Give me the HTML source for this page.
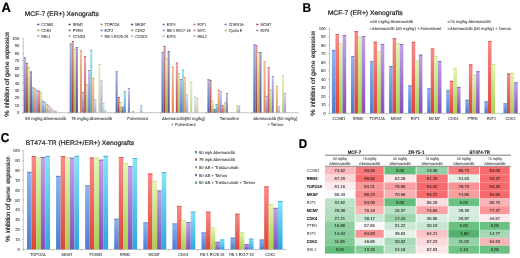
<!DOCTYPE html>
<html><head><meta charset="utf-8"><style>
html,body{margin:0;padding:0;background:#fff;width:520px;height:258px;overflow:hidden}
svg{display:block}
text{font-family:"Liberation Sans", Arial, sans-serif;text-rendering:geometricPrecision}
</style></head><body>
<svg width="520" height="258" viewBox="0 0 520 258">
<defs><linearGradient id="gA0" x1="0" x2="0" y1="0" y2="1"><stop offset="0" stop-color="#A8B4E4"/><stop offset="1" stop-color="#5564A8"/></linearGradient><linearGradient id="gA1" x1="0" x2="0" y1="0" y2="1"><stop offset="0" stop-color="#D89898"/><stop offset="1" stop-color="#8E3C48"/></linearGradient><linearGradient id="gA2" x1="0" x2="0" y1="0" y2="1"><stop offset="0" stop-color="#F0F0B8"/><stop offset="1" stop-color="#A8AC48"/></linearGradient><linearGradient id="gA3" x1="0" x2="0" y1="0" y2="1"><stop offset="0" stop-color="#A8A0C8"/><stop offset="1" stop-color="#5E4C88"/></linearGradient><linearGradient id="gA4" x1="0" x2="0" y1="0" y2="1"><stop offset="0" stop-color="#A8D8F0"/><stop offset="1" stop-color="#4E94C4"/></linearGradient><linearGradient id="gA5" x1="0" x2="0" y1="0" y2="1"><stop offset="0" stop-color="#F8C0A0"/><stop offset="1" stop-color="#DA8248"/></linearGradient><linearGradient id="gA6" x1="0" x2="0" y1="0" y2="1"><stop offset="0" stop-color="#C8CCF0"/><stop offset="1" stop-color="#7880C0"/></linearGradient><linearGradient id="gA7" x1="0" x2="0" y1="0" y2="1"><stop offset="0" stop-color="#F0A0A8"/><stop offset="1" stop-color="#C44858"/></linearGradient><linearGradient id="gA8" x1="0" x2="0" y1="0" y2="1"><stop offset="0" stop-color="#E0ECB0"/><stop offset="1" stop-color="#A8C060"/></linearGradient><linearGradient id="gA9" x1="0" x2="0" y1="0" y2="1"><stop offset="0" stop-color="#C8C0E8"/><stop offset="1" stop-color="#7870B8"/></linearGradient><linearGradient id="gA10" x1="0" x2="0" y1="0" y2="1"><stop offset="0" stop-color="#A8E4F0"/><stop offset="1" stop-color="#48A8C4"/></linearGradient><linearGradient id="gA11" x1="0" x2="0" y1="0" y2="1"><stop offset="0" stop-color="#F8CCA0"/><stop offset="1" stop-color="#EA9448"/></linearGradient><linearGradient id="gA12" x1="0" x2="0" y1="0" y2="1"><stop offset="0" stop-color="#D8E0F4"/><stop offset="1" stop-color="#98A8DC"/></linearGradient><linearGradient id="gA13" x1="0" x2="0" y1="0" y2="1"><stop offset="0" stop-color="#F4D0D4"/><stop offset="1" stop-color="#E09CA4"/></linearGradient><linearGradient id="gA14" x1="0" x2="0" y1="0" y2="1"><stop offset="0" stop-color="#E8F0C8"/><stop offset="1" stop-color="#C0D480"/></linearGradient><linearGradient id="gA15" x1="0" x2="0" y1="0" y2="1"><stop offset="0" stop-color="#DCD0EC"/><stop offset="1" stop-color="#A898D0"/></linearGradient><linearGradient id="gA16" x1="0" x2="0" y1="0" y2="1"><stop offset="0" stop-color="#D0EEF6"/><stop offset="1" stop-color="#90D0E4"/></linearGradient><linearGradient id="gA17" x1="0" x2="0" y1="0" y2="1"><stop offset="0" stop-color="#FCE0C8"/><stop offset="1" stop-color="#F4B888"/></linearGradient><linearGradient id="gA18" x1="0" x2="0" y1="0" y2="1"><stop offset="0" stop-color="#E4E4E4"/><stop offset="1" stop-color="#C8C8C8"/></linearGradient><linearGradient id="gA19" x1="0" x2="0" y1="0" y2="1"><stop offset="0" stop-color="#ECECEC"/><stop offset="1" stop-color="#D4D4D4"/></linearGradient><linearGradient id="gA20" x1="0" x2="0" y1="0" y2="1"><stop offset="0" stop-color="#F4F4E8"/><stop offset="1" stop-color="#E0E0CC"/></linearGradient><linearGradient id="gA21" x1="0" x2="0" y1="0" y2="1"><stop offset="0" stop-color="#ECECF0"/><stop offset="1" stop-color="#D0D0DA"/></linearGradient><linearGradient id="gB0" x1="0" x2="0" y1="0" y2="1"><stop offset="0" stop-color="#90B4F0"/><stop offset="1" stop-color="#4A7ED2"/></linearGradient><linearGradient id="gB1" x1="0" x2="0" y1="0" y2="1"><stop offset="0" stop-color="#F88C88"/><stop offset="1" stop-color="#DE4436"/></linearGradient><linearGradient id="gB2" x1="0" x2="0" y1="0" y2="1"><stop offset="0" stop-color="#E4F6B4"/><stop offset="1" stop-color="#A6D04E"/></linearGradient><linearGradient id="gB3" x1="0" x2="0" y1="0" y2="1"><stop offset="0" stop-color="#C0A4E8"/><stop offset="1" stop-color="#8450B4"/></linearGradient><linearGradient id="gC0" x1="0" x2="0" y1="0" y2="1"><stop offset="0" stop-color="#90B4F0"/><stop offset="1" stop-color="#4A7ED2"/></linearGradient><linearGradient id="gC1" x1="0" x2="0" y1="0" y2="1"><stop offset="0" stop-color="#F88C88"/><stop offset="1" stop-color="#DE4436"/></linearGradient><linearGradient id="gC2" x1="0" x2="0" y1="0" y2="1"><stop offset="0" stop-color="#E4F6B4"/><stop offset="1" stop-color="#A6D04E"/></linearGradient><linearGradient id="gC3" x1="0" x2="0" y1="0" y2="1"><stop offset="0" stop-color="#C0A4E8"/><stop offset="1" stop-color="#8450B4"/></linearGradient><linearGradient id="gC4" x1="0" x2="0" y1="0" y2="1"><stop offset="0" stop-color="#88E4FA"/><stop offset="1" stop-color="#2EA6DE"/></linearGradient></defs>
<rect width="520" height="258" fill="#fff"/>
<text x="1.60" y="11.60" font-size="13.4" fill="#000" text-anchor="start" font-weight="bold" textLength="9.40" lengthAdjust="spacingAndGlyphs"  stroke="#000" stroke-width="0.2">A</text>
<text x="302.60" y="12.00" font-size="12.8" fill="#000" text-anchor="start" font-weight="bold" textLength="8.60" lengthAdjust="spacingAndGlyphs"  stroke="#000" stroke-width="0.2">B</text>
<text x="0.70" y="141.70" font-size="12.8" fill="#000" text-anchor="start" font-weight="bold" textLength="8.60" lengthAdjust="spacingAndGlyphs"  stroke="#000" stroke-width="0.2">C</text>
<text x="298.80" y="148.00" font-size="12.8" fill="#000" text-anchor="start" font-weight="bold" textLength="8.40" lengthAdjust="spacingAndGlyphs"  stroke="#000" stroke-width="0.2">D</text>
<text x="24.80" y="15.60" font-size="6.6" fill="#222" text-anchor="start" textLength="74.00" lengthAdjust="spacingAndGlyphs"  stroke="#222" stroke-width="0.2">MCF-7 (ER+) Xenografts</text>
<rect x="37.10" y="23.70" width="2.30" height="1.60" fill="#5d699e" />
<text x="41.30" y="25.95" font-size="4.2" fill="#333" text-anchor="start" textLength="12.53" lengthAdjust="spacingAndGlyphs"  stroke="#333" stroke-width="0.06">CCNB1</text>
<rect x="68.50" y="23.70" width="2.30" height="1.60" fill="#8b4a51" />
<text x="72.70" y="25.95" font-size="4.2" fill="#333" text-anchor="start" textLength="10.47" lengthAdjust="spacingAndGlyphs"  stroke="#333" stroke-width="0.06">RRM2</text>
<rect x="100.40" y="23.70" width="2.30" height="1.60" fill="#a0a359" />
<text x="104.60" y="25.95" font-size="4.2" fill="#333" text-anchor="start" textLength="14.93" lengthAdjust="spacingAndGlyphs"  stroke="#333" stroke-width="0.06">TOPO2A</text>
<rect x="131.00" y="23.70" width="2.30" height="1.60" fill="#625583" />
<text x="135.20" y="25.95" font-size="4.2" fill="#333" text-anchor="start" textLength="10.68" lengthAdjust="spacingAndGlyphs"  stroke="#333" stroke-width="0.06">MKI67</text>
<rect x="162.50" y="23.70" width="2.30" height="1.60" fill="#588eb1" />
<text x="166.70" y="25.95" font-size="4.2" fill="#333" text-anchor="start" textLength="8.83" lengthAdjust="spacingAndGlyphs"  stroke="#333" stroke-width="0.06">E2F4</text>
<rect x="193.30" y="23.70" width="2.30" height="1.60" fill="#c07e53" />
<text x="197.50" y="25.95" font-size="4.2" fill="#333" text-anchor="start" textLength="8.83" lengthAdjust="spacingAndGlyphs"  stroke="#333" stroke-width="0.06">E2F1</text>
<rect x="224.50" y="23.70" width="2.30" height="1.60" fill="#7a80af" />
<text x="228.70" y="25.95" font-size="4.2" fill="#333" text-anchor="start" textLength="14.99" lengthAdjust="spacingAndGlyphs"  stroke="#333" stroke-width="0.06">CDKN1A</text>
<rect x="256.20" y="23.70" width="2.30" height="1.60" fill="#b1535e" />
<text x="260.40" y="25.95" font-size="4.2" fill="#333" text-anchor="start" textLength="10.88" lengthAdjust="spacingAndGlyphs"  stroke="#333" stroke-width="0.06">MCM7</text>
<rect x="37.10" y="29.60" width="2.30" height="1.60" fill="#9cae65" />
<text x="41.30" y="31.85" font-size="4.2" fill="#333" text-anchor="start" textLength="9.86" lengthAdjust="spacingAndGlyphs"  stroke="#333" stroke-width="0.06">CDK4</text>
<rect x="68.50" y="29.60" width="2.30" height="1.60" fill="#7a73a8" />
<text x="72.70" y="31.85" font-size="4.2" fill="#333" text-anchor="start" textLength="9.86" lengthAdjust="spacingAndGlyphs"  stroke="#333" stroke-width="0.06">PTEN</text>
<rect x="100.40" y="29.60" width="2.30" height="1.60" fill="#559eb1" />
<text x="104.60" y="31.85" font-size="4.2" fill="#333" text-anchor="start" textLength="8.83" lengthAdjust="spacingAndGlyphs"  stroke="#333" stroke-width="0.06">E2F2</text>
<rect x="131.00" y="29.60" width="2.30" height="1.60" fill="#ca8c53" />
<text x="135.20" y="31.85" font-size="4.2" fill="#333" text-anchor="start" textLength="9.86" lengthAdjust="spacingAndGlyphs"  stroke="#333" stroke-width="0.06">CDK2</text>
<rect x="162.50" y="29.60" width="2.30" height="1.60" fill="#919cc1" />
<text x="166.70" y="31.85" font-size="4.2" fill="#333" text-anchor="start" textLength="23.83" lengthAdjust="spacingAndGlyphs"  stroke="#333" stroke-width="0.06">RB-1 EX17-18</text>
<rect x="193.30" y="29.60" width="2.30" height="1.60" fill="#c39197" />
<text x="197.50" y="31.85" font-size="4.2" fill="#333" text-anchor="start" textLength="8.21" lengthAdjust="spacingAndGlyphs"  stroke="#333" stroke-width="0.06">MYC</text>
<rect x="224.50" y="29.60" width="2.30" height="1.60" fill="#adbb7e" />
<text x="228.70" y="31.85" font-size="4.2" fill="#333" text-anchor="start" textLength="13.56" lengthAdjust="spacingAndGlyphs"  stroke="#333" stroke-width="0.06">Cyclin E</text>
<rect x="256.20" y="29.60" width="2.30" height="1.60" fill="#9c8fb8" />
<text x="260.40" y="31.85" font-size="4.2" fill="#333" text-anchor="start" textLength="8.83" lengthAdjust="spacingAndGlyphs"  stroke="#333" stroke-width="0.06">E2F6</text>
<rect x="37.10" y="35.40" width="2.30" height="1.60" fill="#8ab8c6" />
<text x="41.30" y="37.65" font-size="4.2" fill="#333" text-anchor="start" textLength="9.25" lengthAdjust="spacingAndGlyphs"  stroke="#333" stroke-width="0.06">RBL1</text>
<rect x="68.50" y="35.40" width="2.30" height="1.60" fill="#d1a683" />
<text x="72.70" y="37.65" font-size="4.2" fill="#333" text-anchor="start" textLength="12.73" lengthAdjust="spacingAndGlyphs"  stroke="#333" stroke-width="0.06">CCND3</text>
<rect x="100.40" y="35.40" width="2.30" height="1.60" fill="#b1b1b1" />
<text x="104.60" y="37.65" font-size="4.2" fill="#333" text-anchor="start" textLength="23.83" lengthAdjust="spacingAndGlyphs"  stroke="#333" stroke-width="0.06">RB-1 EX25-26</text>
<rect x="131.00" y="35.40" width="2.30" height="1.60" fill="#bababa" />
<text x="135.20" y="37.65" font-size="4.2" fill="#333" text-anchor="start" textLength="12.73" lengthAdjust="spacingAndGlyphs"  stroke="#333" stroke-width="0.06">CCND1</text>
<rect x="162.50" y="35.40" width="2.30" height="1.60" fill="#c3c3b4" />
<text x="166.70" y="37.65" font-size="4.2" fill="#333" text-anchor="start" textLength="8.83" lengthAdjust="spacingAndGlyphs"  stroke="#333" stroke-width="0.06">E2F5</text>
<rect x="193.30" y="35.40" width="2.30" height="1.60" fill="#b8b8be" />
<text x="197.50" y="37.65" font-size="4.2" fill="#333" text-anchor="start" textLength="9.25" lengthAdjust="spacingAndGlyphs"  stroke="#333" stroke-width="0.06">RBL2</text>
<line x1="23.30" y1="38.50" x2="23.30" y2="112.70" stroke="#8a8a8a" stroke-width="0.5"/>
<line x1="22.00" y1="112.70" x2="23.30" y2="112.70" stroke="#8a8a8a" stroke-width="0.5"/>
<text x="19.30" y="114.20" font-size="4.2" fill="#333" text-anchor="end" textLength="2.34" lengthAdjust="spacingAndGlyphs"  stroke="#333" stroke-width="0.06">0</text>
<line x1="22.00" y1="105.28" x2="23.30" y2="105.28" stroke="#8a8a8a" stroke-width="0.5"/>
<text x="19.30" y="106.78" font-size="4.2" fill="#333" text-anchor="end" textLength="4.67" lengthAdjust="spacingAndGlyphs"  stroke="#333" stroke-width="0.06">10</text>
<line x1="22.00" y1="97.86" x2="23.30" y2="97.86" stroke="#8a8a8a" stroke-width="0.5"/>
<text x="19.30" y="99.36" font-size="4.2" fill="#333" text-anchor="end" textLength="4.67" lengthAdjust="spacingAndGlyphs"  stroke="#333" stroke-width="0.06">20</text>
<line x1="22.00" y1="90.44" x2="23.30" y2="90.44" stroke="#8a8a8a" stroke-width="0.5"/>
<text x="19.30" y="91.94" font-size="4.2" fill="#333" text-anchor="end" textLength="4.67" lengthAdjust="spacingAndGlyphs"  stroke="#333" stroke-width="0.06">30</text>
<line x1="22.00" y1="83.02" x2="23.30" y2="83.02" stroke="#8a8a8a" stroke-width="0.5"/>
<text x="19.30" y="84.52" font-size="4.2" fill="#333" text-anchor="end" textLength="4.67" lengthAdjust="spacingAndGlyphs"  stroke="#333" stroke-width="0.06">40</text>
<line x1="22.00" y1="75.60" x2="23.30" y2="75.60" stroke="#8a8a8a" stroke-width="0.5"/>
<text x="19.30" y="77.10" font-size="4.2" fill="#333" text-anchor="end" textLength="4.67" lengthAdjust="spacingAndGlyphs"  stroke="#333" stroke-width="0.06">50</text>
<line x1="22.00" y1="68.18" x2="23.30" y2="68.18" stroke="#8a8a8a" stroke-width="0.5"/>
<text x="19.30" y="69.68" font-size="4.2" fill="#333" text-anchor="end" textLength="4.67" lengthAdjust="spacingAndGlyphs"  stroke="#333" stroke-width="0.06">60</text>
<line x1="22.00" y1="60.76" x2="23.30" y2="60.76" stroke="#8a8a8a" stroke-width="0.5"/>
<text x="19.30" y="62.26" font-size="4.2" fill="#333" text-anchor="end" textLength="4.67" lengthAdjust="spacingAndGlyphs"  stroke="#333" stroke-width="0.06">70</text>
<line x1="22.00" y1="53.34" x2="23.30" y2="53.34" stroke="#8a8a8a" stroke-width="0.5"/>
<text x="19.30" y="54.84" font-size="4.2" fill="#333" text-anchor="end" textLength="4.67" lengthAdjust="spacingAndGlyphs"  stroke="#333" stroke-width="0.06">80</text>
<line x1="22.00" y1="45.92" x2="23.30" y2="45.92" stroke="#8a8a8a" stroke-width="0.5"/>
<text x="19.30" y="47.42" font-size="4.2" fill="#333" text-anchor="end" textLength="4.67" lengthAdjust="spacingAndGlyphs"  stroke="#333" stroke-width="0.06">90</text>
<line x1="22.00" y1="38.50" x2="23.30" y2="38.50" stroke="#8a8a8a" stroke-width="0.5"/>
<text x="19.30" y="40.00" font-size="4.2" fill="#333" text-anchor="end" textLength="7.01" lengthAdjust="spacingAndGlyphs"  stroke="#333" stroke-width="0.06">100</text>
<line x1="23.30" y1="112.70" x2="298.30" y2="112.70" stroke="#8a8a8a" stroke-width="0.5"/>
<line x1="22.85" y1="112.70" x2="22.85" y2="114.00" stroke="#8a8a8a" stroke-width="0.5"/>
<line x1="68.75" y1="112.70" x2="68.75" y2="114.00" stroke="#8a8a8a" stroke-width="0.5"/>
<line x1="114.65" y1="112.70" x2="114.65" y2="114.00" stroke="#8a8a8a" stroke-width="0.5"/>
<line x1="160.55" y1="112.70" x2="160.55" y2="114.00" stroke="#8a8a8a" stroke-width="0.5"/>
<line x1="206.45" y1="112.70" x2="206.45" y2="114.00" stroke="#8a8a8a" stroke-width="0.5"/>
<line x1="252.35" y1="112.70" x2="252.35" y2="114.00" stroke="#8a8a8a" stroke-width="0.5"/>
<line x1="298.25" y1="112.70" x2="298.25" y2="114.00" stroke="#8a8a8a" stroke-width="0.5"/>
<text transform="translate(9.00,58.90) rotate(-90)" font-size="6.3" fill="#222" stroke="#222" stroke-width="0.15" textLength="27.40" lengthAdjust="spacingAndGlyphs">expression</text>
<text transform="translate(9.00,77.00) rotate(-90)" font-size="6.3" fill="#222" stroke="#222" stroke-width="0.15" textLength="15.70" lengthAdjust="spacingAndGlyphs">gene</text>
<text transform="translate(9.00,85.30) rotate(-90)" font-size="6.3" fill="#222" stroke="#222" stroke-width="0.15" textLength="6.70" lengthAdjust="spacingAndGlyphs">of</text>
<text transform="translate(9.00,108.50) rotate(-90)" font-size="6.3" fill="#222" stroke="#222" stroke-width="0.15" textLength="21.50" lengthAdjust="spacingAndGlyphs">Inhibition</text>
<text transform="translate(9.00,117.00) rotate(-90)" font-size="6.3" fill="#222" stroke="#222" stroke-width="0.15" textLength="6.80" lengthAdjust="spacingAndGlyphs">%</text>
<rect x="23.80" y="57.42" width="2.05" height="55.28" fill="url(#gA0)" />
<rect x="23.80" y="57.42" width="2.05" height="0.80" fill="#48558e" opacity="0.75"/>
<rect x="25.85" y="62.84" width="2.05" height="49.86" fill="url(#gA1)" />
<rect x="25.85" y="62.84" width="2.05" height="0.80" fill="#78333d" opacity="0.75"/>
<rect x="27.90" y="67.29" width="2.05" height="45.41" fill="url(#gA2)" />
<rect x="27.90" y="67.29" width="2.05" height="0.80" fill="#8e923d" opacity="0.75"/>
<rect x="29.95" y="71.59" width="2.05" height="41.11" fill="url(#gA3)" />
<rect x="29.95" y="71.59" width="2.05" height="0.80" fill="#4f4073" opacity="0.75"/>
<rect x="32.00" y="87.47" width="2.05" height="25.23" fill="url(#gA4)" />
<rect x="32.00" y="87.47" width="2.05" height="0.80" fill="#427da6" opacity="0.75"/>
<rect x="34.05" y="88.36" width="2.05" height="24.34" fill="url(#gA5)" />
<rect x="34.05" y="88.36" width="2.05" height="0.80" fill="#b96e3d" opacity="0.75"/>
<rect x="36.10" y="89.99" width="2.05" height="22.71" fill="url(#gA6)" />
<rect x="36.10" y="89.99" width="2.05" height="0.80" fill="#666ca3" opacity="0.75"/>
<rect x="38.15" y="90.89" width="2.05" height="21.81" fill="url(#gA7)" />
<rect x="38.15" y="90.89" width="2.05" height="0.80" fill="#a63d4a" opacity="0.75"/>
<rect x="40.20" y="92.52" width="2.05" height="20.18" fill="url(#gA8)" />
<rect x="40.20" y="92.52" width="2.05" height="0.80" fill="#8ea351" opacity="0.75"/>
<rect x="42.25" y="100.90" width="2.05" height="11.80" fill="url(#gA9)" />
<rect x="42.25" y="100.90" width="2.05" height="0.80" fill="#665f9c" opacity="0.75"/>
<rect x="44.30" y="102.31" width="2.05" height="10.39" fill="url(#gA10)" />
<rect x="44.30" y="102.31" width="2.05" height="0.80" fill="#3d8ea6" opacity="0.75"/>
<rect x="46.35" y="104.02" width="2.05" height="8.68" fill="url(#gA11)" />
<rect x="46.35" y="104.02" width="2.05" height="0.80" fill="#c67d3d" opacity="0.75"/>
<rect x="48.40" y="106.17" width="2.05" height="6.53" fill="url(#gA12)" />
<rect x="48.40" y="106.17" width="2.05" height="0.80" fill="#818ebb" opacity="0.75"/>
<rect x="50.45" y="108.40" width="2.05" height="4.30" fill="url(#gA13)" />
<rect x="50.45" y="108.40" width="2.05" height="0.80" fill="#be848b" opacity="0.75"/>
<rect x="52.50" y="110.03" width="2.05" height="2.67" fill="url(#gA14)" />
<rect x="52.50" y="110.03" width="2.05" height="0.80" fill="#a3b46c" opacity="0.75"/>
<rect x="54.55" y="111.22" width="2.05" height="1.48" fill="url(#gA15)" />
<rect x="54.55" y="111.22" width="2.05" height="0.80" fill="#8e81b0" opacity="0.75"/>
<rect x="69.70" y="43.66" width="2.05" height="69.04" fill="url(#gA0)" />
<rect x="69.70" y="43.66" width="2.05" height="0.80" fill="#48558e" opacity="0.75"/>
<rect x="71.75" y="41.05" width="2.05" height="71.65" fill="url(#gA1)" />
<rect x="71.75" y="41.05" width="2.05" height="0.80" fill="#78333d" opacity="0.75"/>
<rect x="73.80" y="48.89" width="2.05" height="63.81" fill="url(#gA2)" />
<rect x="73.80" y="48.89" width="2.05" height="0.80" fill="#8e923d" opacity="0.75"/>
<rect x="75.85" y="47.23" width="2.05" height="65.47" fill="url(#gA3)" />
<rect x="75.85" y="47.23" width="2.05" height="0.80" fill="#4f4073" opacity="0.75"/>
<rect x="79.95" y="50.31" width="2.05" height="62.39" fill="url(#gA5)" />
<rect x="79.95" y="50.31" width="2.05" height="0.80" fill="#b96e3d" opacity="0.75"/>
<rect x="82.00" y="91.92" width="2.05" height="20.78" fill="url(#gA6)" />
<rect x="82.00" y="91.92" width="2.05" height="0.80" fill="#666ca3" opacity="0.75"/>
<rect x="84.05" y="56.17" width="2.05" height="56.53" fill="url(#gA7)" />
<rect x="84.05" y="56.17" width="2.05" height="0.80" fill="#a63d4a" opacity="0.75"/>
<rect x="86.10" y="84.38" width="2.05" height="28.32" fill="url(#gA8)" />
<rect x="86.10" y="84.38" width="2.05" height="0.80" fill="#8ea351" opacity="0.75"/>
<rect x="88.15" y="70.00" width="2.05" height="42.70" fill="url(#gA9)" />
<rect x="88.15" y="70.00" width="2.05" height="0.80" fill="#665f9c" opacity="0.75"/>
<rect x="90.20" y="49.76" width="2.05" height="62.94" fill="url(#gA10)" />
<rect x="90.20" y="49.76" width="2.05" height="0.80" fill="#3d8ea6" opacity="0.75"/>
<rect x="92.25" y="77.93" width="2.05" height="34.77" fill="url(#gA11)" />
<rect x="92.25" y="77.93" width="2.05" height="0.80" fill="#c67d3d" opacity="0.75"/>
<rect x="94.30" y="99.34" width="2.05" height="13.36" fill="url(#gA12)" />
<rect x="94.30" y="99.34" width="2.05" height="0.80" fill="#818ebb" opacity="0.75"/>
<rect x="98.40" y="64.10" width="2.05" height="48.60" fill="url(#gA14)" />
<rect x="98.40" y="64.10" width="2.05" height="0.80" fill="#a3b46c" opacity="0.75"/>
<rect x="100.45" y="80.42" width="2.05" height="32.28" fill="url(#gA15)" />
<rect x="100.45" y="80.42" width="2.05" height="0.80" fill="#8e81b0" opacity="0.75"/>
<rect x="102.50" y="102.87" width="2.05" height="9.83" fill="url(#gA16)" />
<rect x="102.50" y="102.87" width="2.05" height="0.80" fill="#7ab0c1" opacity="0.75"/>
<rect x="104.55" y="110.47" width="2.05" height="2.23" fill="url(#gA17)" />
<rect x="104.55" y="110.47" width="2.05" height="0.80" fill="#cf9c73" opacity="0.75"/>
<rect x="115.60" y="71.37" width="2.05" height="41.33" fill="url(#gA0)" />
<rect x="115.60" y="71.37" width="2.05" height="0.80" fill="#48558e" opacity="0.75"/>
<rect x="117.65" y="97.12" width="2.05" height="15.58" fill="url(#gA1)" />
<rect x="117.65" y="97.12" width="2.05" height="0.80" fill="#78333d" opacity="0.75"/>
<rect x="119.70" y="102.31" width="2.05" height="10.39" fill="url(#gA2)" />
<rect x="119.70" y="102.31" width="2.05" height="0.80" fill="#8e923d" opacity="0.75"/>
<rect x="121.75" y="106.76" width="2.05" height="5.94" fill="url(#gA3)" />
<rect x="121.75" y="106.76" width="2.05" height="0.80" fill="#4f4073" opacity="0.75"/>
<rect x="123.80" y="91.18" width="2.05" height="21.52" fill="url(#gA4)" />
<rect x="123.80" y="91.18" width="2.05" height="0.80" fill="#427da6" opacity="0.75"/>
<rect x="127.90" y="88.21" width="2.05" height="24.49" fill="url(#gA6)" />
<rect x="127.90" y="88.21" width="2.05" height="0.80" fill="#666ca3" opacity="0.75"/>
<rect x="132.00" y="111.22" width="2.05" height="1.48" fill="url(#gA8)" />
<rect x="132.00" y="111.22" width="2.05" height="0.80" fill="#8ea351" opacity="0.75"/>
<rect x="140.20" y="105.28" width="2.05" height="7.42" fill="url(#gA12)" />
<rect x="140.20" y="105.28" width="2.05" height="0.80" fill="#818ebb" opacity="0.75"/>
<rect x="161.50" y="51.86" width="2.05" height="60.84" fill="url(#gA0)" />
<rect x="161.50" y="51.86" width="2.05" height="0.80" fill="#48558e" opacity="0.75"/>
<rect x="163.55" y="45.92" width="2.05" height="66.78" fill="url(#gA1)" />
<rect x="163.55" y="45.92" width="2.05" height="0.80" fill="#78333d" opacity="0.75"/>
<rect x="165.60" y="58.53" width="2.05" height="54.17" fill="url(#gA2)" />
<rect x="165.60" y="58.53" width="2.05" height="0.80" fill="#8e923d" opacity="0.75"/>
<rect x="167.65" y="51.11" width="2.05" height="61.59" fill="url(#gA3)" />
<rect x="167.65" y="51.11" width="2.05" height="0.80" fill="#4f4073" opacity="0.75"/>
<rect x="171.75" y="66.70" width="2.05" height="46.00" fill="url(#gA5)" />
<rect x="171.75" y="66.70" width="2.05" height="0.80" fill="#b96e3d" opacity="0.75"/>
<rect x="175.85" y="62.62" width="2.05" height="50.09" fill="url(#gA7)" />
<rect x="175.85" y="62.62" width="2.05" height="0.80" fill="#a63d4a" opacity="0.75"/>
<rect x="177.90" y="73.00" width="2.05" height="39.70" fill="url(#gA8)" />
<rect x="177.90" y="73.00" width="2.05" height="0.80" fill="#8ea351" opacity="0.75"/>
<rect x="179.95" y="79.01" width="2.05" height="33.69" fill="url(#gA9)" />
<rect x="179.95" y="79.01" width="2.05" height="0.80" fill="#665f9c" opacity="0.75"/>
<rect x="182.00" y="69.66" width="2.05" height="43.04" fill="url(#gA10)" />
<rect x="182.00" y="69.66" width="2.05" height="0.80" fill="#3d8ea6" opacity="0.75"/>
<rect x="184.05" y="77.08" width="2.05" height="35.62" fill="url(#gA11)" />
<rect x="184.05" y="77.08" width="2.05" height="0.80" fill="#c67d3d" opacity="0.75"/>
<rect x="186.10" y="94.45" width="2.05" height="18.25" fill="url(#gA12)" />
<rect x="186.10" y="94.45" width="2.05" height="0.80" fill="#818ebb" opacity="0.75"/>
<rect x="190.20" y="81.91" width="2.05" height="30.79" fill="url(#gA14)" />
<rect x="190.20" y="81.91" width="2.05" height="0.80" fill="#a3b46c" opacity="0.75"/>
<rect x="194.30" y="96.60" width="2.05" height="16.10" fill="url(#gA16)" />
<rect x="194.30" y="96.60" width="2.05" height="0.80" fill="#7ab0c1" opacity="0.75"/>
<rect x="196.35" y="98.01" width="2.05" height="14.69" fill="url(#gA17)" />
<rect x="196.35" y="98.01" width="2.05" height="0.80" fill="#cf9c73" opacity="0.75"/>
<rect x="207.40" y="79.31" width="2.05" height="33.39" fill="url(#gA0)" />
<rect x="207.40" y="79.31" width="2.05" height="0.80" fill="#48558e" opacity="0.75"/>
<rect x="209.45" y="79.90" width="2.05" height="32.80" fill="url(#gA1)" />
<rect x="209.45" y="79.90" width="2.05" height="0.80" fill="#78333d" opacity="0.75"/>
<rect x="211.50" y="100.83" width="2.05" height="11.87" fill="url(#gA2)" />
<rect x="211.50" y="100.83" width="2.05" height="0.80" fill="#8e923d" opacity="0.75"/>
<rect x="213.55" y="108.99" width="2.05" height="3.71" fill="url(#gA3)" />
<rect x="213.55" y="108.99" width="2.05" height="0.80" fill="#4f4073" opacity="0.75"/>
<rect x="215.60" y="104.02" width="2.05" height="8.68" fill="url(#gA4)" />
<rect x="215.60" y="104.02" width="2.05" height="0.80" fill="#427da6" opacity="0.75"/>
<rect x="217.65" y="89.70" width="2.05" height="23.00" fill="url(#gA5)" />
<rect x="217.65" y="89.70" width="2.05" height="0.80" fill="#b96e3d" opacity="0.75"/>
<rect x="219.70" y="91.18" width="2.05" height="21.52" fill="url(#gA6)" />
<rect x="219.70" y="91.18" width="2.05" height="0.80" fill="#666ca3" opacity="0.75"/>
<rect x="221.75" y="105.28" width="2.05" height="7.42" fill="url(#gA7)" />
<rect x="221.75" y="105.28" width="2.05" height="0.80" fill="#a63d4a" opacity="0.75"/>
<rect x="223.80" y="102.31" width="2.05" height="10.39" fill="url(#gA8)" />
<rect x="223.80" y="102.31" width="2.05" height="0.80" fill="#8ea351" opacity="0.75"/>
<rect x="225.85" y="93.04" width="2.05" height="19.66" fill="url(#gA9)" />
<rect x="225.85" y="93.04" width="2.05" height="0.80" fill="#665f9c" opacity="0.75"/>
<rect x="236.10" y="105.28" width="2.05" height="7.42" fill="url(#gA14)" />
<rect x="236.10" y="105.28" width="2.05" height="0.80" fill="#a3b46c" opacity="0.75"/>
<rect x="238.15" y="105.80" width="2.05" height="6.90" fill="url(#gA15)" />
<rect x="238.15" y="105.80" width="2.05" height="0.80" fill="#8e81b0" opacity="0.75"/>
<rect x="253.30" y="44.44" width="2.05" height="68.26" fill="url(#gA0)" />
<rect x="253.30" y="44.44" width="2.05" height="0.80" fill="#48558e" opacity="0.75"/>
<rect x="255.35" y="45.33" width="2.05" height="67.37" fill="url(#gA1)" />
<rect x="255.35" y="45.33" width="2.05" height="0.80" fill="#78333d" opacity="0.75"/>
<rect x="257.40" y="52.23" width="2.05" height="60.47" fill="url(#gA2)" />
<rect x="257.40" y="52.23" width="2.05" height="0.80" fill="#8e923d" opacity="0.75"/>
<rect x="259.45" y="52.23" width="2.05" height="60.47" fill="url(#gA3)" />
<rect x="259.45" y="52.23" width="2.05" height="0.80" fill="#4f4073" opacity="0.75"/>
<rect x="263.55" y="61.50" width="2.05" height="51.20" fill="url(#gA5)" />
<rect x="263.55" y="61.50" width="2.05" height="0.80" fill="#b96e3d" opacity="0.75"/>
<rect x="265.60" y="95.93" width="2.05" height="16.77" fill="url(#gA6)" />
<rect x="265.60" y="95.93" width="2.05" height="0.80" fill="#666ca3" opacity="0.75"/>
<rect x="267.65" y="66.99" width="2.05" height="45.71" fill="url(#gA7)" />
<rect x="267.65" y="66.99" width="2.05" height="0.80" fill="#a63d4a" opacity="0.75"/>
<rect x="269.70" y="89.70" width="2.05" height="23.00" fill="url(#gA8)" />
<rect x="269.70" y="89.70" width="2.05" height="0.80" fill="#8ea351" opacity="0.75"/>
<rect x="271.75" y="76.05" width="2.05" height="36.65" fill="url(#gA9)" />
<rect x="271.75" y="76.05" width="2.05" height="0.80" fill="#665f9c" opacity="0.75"/>
<rect x="275.85" y="85.69" width="2.05" height="27.01" fill="url(#gA11)" />
<rect x="275.85" y="85.69" width="2.05" height="0.80" fill="#c67d3d" opacity="0.75"/>
<rect x="277.90" y="106.17" width="2.05" height="6.53" fill="url(#gA12)" />
<rect x="277.90" y="106.17" width="2.05" height="0.80" fill="#818ebb" opacity="0.75"/>
<rect x="282.00" y="75.60" width="2.05" height="37.10" fill="url(#gA14)" />
<rect x="282.00" y="75.60" width="2.05" height="0.80" fill="#a3b46c" opacity="0.75"/>
<rect x="284.05" y="93.04" width="2.05" height="19.66" fill="url(#gA15)" />
<rect x="284.05" y="93.04" width="2.05" height="0.80" fill="#8e81b0" opacity="0.75"/>
<text x="45.80" y="120.30" font-size="4.3" fill="#333" text-anchor="middle" textLength="40.99" lengthAdjust="spacingAndGlyphs"  stroke="#333" stroke-width="0.06">50 mg/kg Abemaciclib</text>
<text x="91.70" y="120.30" font-size="4.3" fill="#333" text-anchor="middle" textLength="40.99" lengthAdjust="spacingAndGlyphs"  stroke="#333" stroke-width="0.06">75 mg/kg Abemaciclib</text>
<text x="137.60" y="120.30" font-size="4.3" fill="#333" text-anchor="middle" textLength="20.84" lengthAdjust="spacingAndGlyphs"  stroke="#333" stroke-width="0.06">Fulvestrant</text>
<text x="183.50" y="120.30" font-size="4.3" fill="#333" text-anchor="middle" textLength="42.86" lengthAdjust="spacingAndGlyphs"  stroke="#333" stroke-width="0.06">Abemaciclib(50 mg/kg)</text>
<text x="183.50" y="125.70" font-size="4.3" fill="#333" text-anchor="middle" textLength="24.48" lengthAdjust="spacingAndGlyphs"  stroke="#333" stroke-width="0.06">+ Fulvestrant</text>
<text x="229.40" y="120.30" font-size="4.3" fill="#333" text-anchor="middle" textLength="19.21" lengthAdjust="spacingAndGlyphs"  stroke="#333" stroke-width="0.06">Tamoxifen</text>
<text x="275.30" y="120.30" font-size="4.3" fill="#333" text-anchor="middle" textLength="44.03" lengthAdjust="spacingAndGlyphs"  stroke="#333" stroke-width="0.06">Abemaciclib (50 mg/kg)</text>
<text x="275.30" y="125.70" font-size="4.3" fill="#333" text-anchor="middle" textLength="15.97" lengthAdjust="spacingAndGlyphs"  stroke="#333" stroke-width="0.06">+ Tamox</text>
<text x="327.70" y="14.50" font-size="6.6" fill="#222" text-anchor="start" textLength="75.00" lengthAdjust="spacingAndGlyphs"  stroke="#222" stroke-width="0.2">MCF-7 (ER+) Xenografts</text>
<rect x="369.90" y="21.00" width="2.10" height="1.90" fill="#8da1c9" />
<text x="372.40" y="23.20" font-size="4.1" fill="#333" text-anchor="start" textLength="40.68" lengthAdjust="spacingAndGlyphs"  stroke="#333" stroke-width="0.06">50 mg/kg Abemaciclib</text>
<rect x="447.60" y="21.00" width="2.10" height="1.90" fill="#c68b90" />
<text x="450.10" y="23.20" font-size="4.1" fill="#333" text-anchor="start" textLength="40.68" lengthAdjust="spacingAndGlyphs"  stroke="#333" stroke-width="0.06">75 mg/kg Abemaciclib</text>
<rect x="369.60" y="27.80" width="2.10" height="1.90" fill="#bcc5a8" />
<text x="372.10" y="30.00" font-size="4.1" fill="#333" text-anchor="start" textLength="69.15" lengthAdjust="spacingAndGlyphs"  stroke="#333" stroke-width="0.06">Abemaciclib (50 mg/kg) + Fulvestrant</text>
<rect x="447.60" y="27.80" width="2.10" height="1.90" fill="#a898c5" />
<text x="450.10" y="30.00" font-size="4.1" fill="#333" text-anchor="start" textLength="60.70" lengthAdjust="spacingAndGlyphs"  stroke="#333" stroke-width="0.06">Abemaciclib (50 mg/kg) + Tamox</text>
<line x1="329.50" y1="28.30" x2="329.50" y2="113.30" stroke="#8a8a8a" stroke-width="0.5"/>
<line x1="328.20" y1="113.30" x2="329.50" y2="113.30" stroke="#8a8a8a" stroke-width="0.5"/>
<text x="325.70" y="114.80" font-size="4.2" fill="#333" text-anchor="end" textLength="2.34" lengthAdjust="spacingAndGlyphs"  stroke="#333" stroke-width="0.06">0</text>
<line x1="328.20" y1="104.80" x2="329.50" y2="104.80" stroke="#8a8a8a" stroke-width="0.5"/>
<text x="325.70" y="106.30" font-size="4.2" fill="#333" text-anchor="end" textLength="4.67" lengthAdjust="spacingAndGlyphs"  stroke="#333" stroke-width="0.06">10</text>
<line x1="328.20" y1="96.30" x2="329.50" y2="96.30" stroke="#8a8a8a" stroke-width="0.5"/>
<text x="325.70" y="97.80" font-size="4.2" fill="#333" text-anchor="end" textLength="4.67" lengthAdjust="spacingAndGlyphs"  stroke="#333" stroke-width="0.06">20</text>
<line x1="328.20" y1="87.80" x2="329.50" y2="87.80" stroke="#8a8a8a" stroke-width="0.5"/>
<text x="325.70" y="89.30" font-size="4.2" fill="#333" text-anchor="end" textLength="4.67" lengthAdjust="spacingAndGlyphs"  stroke="#333" stroke-width="0.06">30</text>
<line x1="328.20" y1="79.30" x2="329.50" y2="79.30" stroke="#8a8a8a" stroke-width="0.5"/>
<text x="325.70" y="80.80" font-size="4.2" fill="#333" text-anchor="end" textLength="4.67" lengthAdjust="spacingAndGlyphs"  stroke="#333" stroke-width="0.06">40</text>
<line x1="328.20" y1="70.80" x2="329.50" y2="70.80" stroke="#8a8a8a" stroke-width="0.5"/>
<text x="325.70" y="72.30" font-size="4.2" fill="#333" text-anchor="end" textLength="4.67" lengthAdjust="spacingAndGlyphs"  stroke="#333" stroke-width="0.06">50</text>
<line x1="328.20" y1="62.30" x2="329.50" y2="62.30" stroke="#8a8a8a" stroke-width="0.5"/>
<text x="325.70" y="63.80" font-size="4.2" fill="#333" text-anchor="end" textLength="4.67" lengthAdjust="spacingAndGlyphs"  stroke="#333" stroke-width="0.06">60</text>
<line x1="328.20" y1="53.80" x2="329.50" y2="53.80" stroke="#8a8a8a" stroke-width="0.5"/>
<text x="325.70" y="55.30" font-size="4.2" fill="#333" text-anchor="end" textLength="4.67" lengthAdjust="spacingAndGlyphs"  stroke="#333" stroke-width="0.06">70</text>
<line x1="328.20" y1="45.30" x2="329.50" y2="45.30" stroke="#8a8a8a" stroke-width="0.5"/>
<text x="325.70" y="46.80" font-size="4.2" fill="#333" text-anchor="end" textLength="4.67" lengthAdjust="spacingAndGlyphs"  stroke="#333" stroke-width="0.06">80</text>
<line x1="328.20" y1="36.80" x2="329.50" y2="36.80" stroke="#8a8a8a" stroke-width="0.5"/>
<text x="325.70" y="38.30" font-size="4.2" fill="#333" text-anchor="end" textLength="4.67" lengthAdjust="spacingAndGlyphs"  stroke="#333" stroke-width="0.06">90</text>
<line x1="328.20" y1="28.30" x2="329.50" y2="28.30" stroke="#8a8a8a" stroke-width="0.5"/>
<text x="325.70" y="29.80" font-size="4.2" fill="#333" text-anchor="end" textLength="7.01" lengthAdjust="spacingAndGlyphs"  stroke="#333" stroke-width="0.06">100</text>
<line x1="329.50" y1="113.30" x2="520.00" y2="113.30" stroke="#8a8a8a" stroke-width="0.5"/>
<line x1="329.50" y1="113.30" x2="329.50" y2="114.60" stroke="#8a8a8a" stroke-width="0.5"/>
<line x1="348.56" y1="113.30" x2="348.56" y2="114.60" stroke="#8a8a8a" stroke-width="0.5"/>
<line x1="367.62" y1="113.30" x2="367.62" y2="114.60" stroke="#8a8a8a" stroke-width="0.5"/>
<line x1="386.68" y1="113.30" x2="386.68" y2="114.60" stroke="#8a8a8a" stroke-width="0.5"/>
<line x1="405.74" y1="113.30" x2="405.74" y2="114.60" stroke="#8a8a8a" stroke-width="0.5"/>
<line x1="424.80" y1="113.30" x2="424.80" y2="114.60" stroke="#8a8a8a" stroke-width="0.5"/>
<line x1="443.86" y1="113.30" x2="443.86" y2="114.60" stroke="#8a8a8a" stroke-width="0.5"/>
<line x1="462.92" y1="113.30" x2="462.92" y2="114.60" stroke="#8a8a8a" stroke-width="0.5"/>
<line x1="481.98" y1="113.30" x2="481.98" y2="114.60" stroke="#8a8a8a" stroke-width="0.5"/>
<line x1="501.04" y1="113.30" x2="501.04" y2="114.60" stroke="#8a8a8a" stroke-width="0.5"/>
<line x1="520.10" y1="113.30" x2="520.10" y2="114.60" stroke="#8a8a8a" stroke-width="0.5"/>
<text transform="translate(314.80,57.90) rotate(-90)" font-size="6.3" fill="#222" stroke="#222" stroke-width="0.15" textLength="27.40" lengthAdjust="spacingAndGlyphs">expression</text>
<text transform="translate(314.80,76.00) rotate(-90)" font-size="6.3" fill="#222" stroke="#222" stroke-width="0.15" textLength="15.70" lengthAdjust="spacingAndGlyphs">gene</text>
<text transform="translate(314.80,84.30) rotate(-90)" font-size="6.3" fill="#222" stroke="#222" stroke-width="0.15" textLength="6.70" lengthAdjust="spacingAndGlyphs">of</text>
<text transform="translate(314.80,107.50) rotate(-90)" font-size="6.3" fill="#222" stroke="#222" stroke-width="0.15" textLength="21.50" lengthAdjust="spacingAndGlyphs">Inhibition</text>
<text transform="translate(314.80,116.00) rotate(-90)" font-size="6.3" fill="#222" stroke="#222" stroke-width="0.15" textLength="6.80" lengthAdjust="spacingAndGlyphs">%</text>
<rect x="331.90" y="49.96" width="3.57" height="63.34" fill="url(#gB0)" />
<rect x="331.90" y="49.96" width="3.57" height="0.80" fill="#3e6bb2" opacity="0.75"/>
<rect x="335.47" y="34.21" width="3.57" height="79.09" fill="url(#gB1)" />
<rect x="335.47" y="34.21" width="3.57" height="0.80" fill="#bc392d" opacity="0.75"/>
<rect x="339.04" y="43.60" width="3.57" height="69.70" fill="url(#gB2)" />
<rect x="339.04" y="43.60" width="3.57" height="0.80" fill="#8db042" opacity="0.35"/>
<rect x="342.61" y="35.10" width="3.57" height="78.20" fill="url(#gB3)" />
<rect x="342.61" y="35.10" width="3.57" height="0.80" fill="#704499" opacity="0.75"/>
<text x="339.03" y="120.20" font-size="4.3" fill="#333" text-anchor="middle" textLength="12.83" lengthAdjust="spacingAndGlyphs"  stroke="#333" stroke-width="0.06">CCNB1</text>
<rect x="350.96" y="56.18" width="3.57" height="57.12" fill="url(#gB0)" />
<rect x="350.96" y="56.18" width="3.57" height="0.80" fill="#3e6bb2" opacity="0.75"/>
<rect x="354.53" y="31.22" width="3.57" height="82.08" fill="url(#gB1)" />
<rect x="354.53" y="31.22" width="3.57" height="0.80" fill="#bc392d" opacity="0.75"/>
<rect x="358.10" y="36.80" width="3.57" height="76.50" fill="url(#gB2)" />
<rect x="358.10" y="36.80" width="3.57" height="0.80" fill="#8db042" opacity="0.35"/>
<rect x="361.67" y="36.12" width="3.57" height="77.18" fill="url(#gB3)" />
<rect x="361.67" y="36.12" width="3.57" height="0.80" fill="#704499" opacity="0.75"/>
<text x="358.09" y="120.20" font-size="4.3" fill="#333" text-anchor="middle" textLength="10.72" lengthAdjust="spacingAndGlyphs"  stroke="#333" stroke-width="0.06">RRM2</text>
<rect x="370.02" y="61.32" width="3.57" height="51.98" fill="url(#gB0)" />
<rect x="370.02" y="61.32" width="3.57" height="0.80" fill="#3e6bb2" opacity="0.75"/>
<rect x="373.59" y="41.72" width="3.57" height="71.58" fill="url(#gB1)" />
<rect x="373.59" y="41.72" width="3.57" height="0.80" fill="#bc392d" opacity="0.75"/>
<rect x="377.16" y="51.25" width="3.57" height="62.05" fill="url(#gB2)" />
<rect x="377.16" y="51.25" width="3.57" height="0.80" fill="#8db042" opacity="0.35"/>
<rect x="380.73" y="44.03" width="3.57" height="69.27" fill="url(#gB3)" />
<rect x="380.73" y="44.03" width="3.57" height="0.80" fill="#704499" opacity="0.75"/>
<text x="377.15" y="120.20" font-size="4.3" fill="#333" text-anchor="middle" textLength="15.28" lengthAdjust="spacingAndGlyphs"  stroke="#333" stroke-width="0.06">TOPO2A</text>
<rect x="389.08" y="66.18" width="3.57" height="47.12" fill="url(#gB0)" />
<rect x="389.08" y="66.18" width="3.57" height="0.80" fill="#3e6bb2" opacity="0.75"/>
<rect x="392.65" y="38.30" width="3.57" height="75.00" fill="url(#gB1)" />
<rect x="392.65" y="38.30" width="3.57" height="0.80" fill="#bc392d" opacity="0.75"/>
<rect x="396.22" y="42.75" width="3.57" height="70.55" fill="url(#gB2)" />
<rect x="396.22" y="42.75" width="3.57" height="0.80" fill="#8db042" opacity="0.35"/>
<rect x="399.79" y="44.03" width="3.57" height="69.27" fill="url(#gB3)" />
<rect x="399.79" y="44.03" width="3.57" height="0.80" fill="#704499" opacity="0.75"/>
<text x="396.21" y="120.20" font-size="4.3" fill="#333" text-anchor="middle" textLength="10.94" lengthAdjust="spacingAndGlyphs"  stroke="#333" stroke-width="0.06">MKI67</text>
<rect x="408.14" y="85.40" width="3.57" height="27.90" fill="url(#gB0)" />
<rect x="408.14" y="85.40" width="3.57" height="0.80" fill="#3e6bb2" opacity="0.75"/>
<rect x="411.71" y="41.82" width="3.57" height="71.48" fill="url(#gB1)" />
<rect x="411.71" y="41.82" width="3.57" height="0.80" fill="#bc392d" opacity="0.75"/>
<rect x="415.28" y="60.60" width="3.57" height="52.70" fill="url(#gB2)" />
<rect x="415.28" y="60.60" width="3.57" height="0.80" fill="#8db042" opacity="0.35"/>
<rect x="418.85" y="54.65" width="3.57" height="58.65" fill="url(#gB3)" />
<rect x="418.85" y="54.65" width="3.57" height="0.80" fill="#704499" opacity="0.75"/>
<text x="415.27" y="120.20" font-size="4.3" fill="#333" text-anchor="middle" textLength="9.04" lengthAdjust="spacingAndGlyphs"  stroke="#333" stroke-width="0.06">E2F1</text>
<rect x="427.20" y="88.33" width="3.57" height="24.97" fill="url(#gB0)" />
<rect x="427.20" y="88.33" width="3.57" height="0.80" fill="#3e6bb2" opacity="0.75"/>
<rect x="430.77" y="48.55" width="3.57" height="64.75" fill="url(#gB1)" />
<rect x="430.77" y="48.55" width="3.57" height="0.80" fill="#bc392d" opacity="0.75"/>
<rect x="434.34" y="55.92" width="3.57" height="57.38" fill="url(#gB2)" />
<rect x="434.34" y="55.92" width="3.57" height="0.80" fill="#8db042" opacity="0.35"/>
<rect x="437.91" y="60.94" width="3.57" height="52.36" fill="url(#gB3)" />
<rect x="437.91" y="60.94" width="3.57" height="0.80" fill="#704499" opacity="0.75"/>
<text x="434.33" y="120.20" font-size="4.3" fill="#333" text-anchor="middle" textLength="11.14" lengthAdjust="spacingAndGlyphs"  stroke="#333" stroke-width="0.06">MCM7</text>
<rect x="446.26" y="90.17" width="3.57" height="23.13" fill="url(#gB0)" />
<rect x="446.26" y="90.17" width="3.57" height="0.80" fill="#3e6bb2" opacity="0.75"/>
<rect x="449.83" y="80.86" width="3.57" height="32.44" fill="url(#gB1)" />
<rect x="449.83" y="80.86" width="3.57" height="0.80" fill="#bc392d" opacity="0.75"/>
<rect x="453.40" y="67.82" width="3.57" height="45.48" fill="url(#gB2)" />
<rect x="453.40" y="67.82" width="3.57" height="0.80" fill="#8db042" opacity="0.35"/>
<rect x="456.97" y="86.95" width="3.57" height="26.35" fill="url(#gB3)" />
<rect x="456.97" y="86.95" width="3.57" height="0.80" fill="#704499" opacity="0.75"/>
<text x="453.39" y="120.20" font-size="4.3" fill="#333" text-anchor="middle" textLength="10.09" lengthAdjust="spacingAndGlyphs"  stroke="#333" stroke-width="0.06">CDK4</text>
<rect x="465.32" y="99.82" width="3.57" height="13.48" fill="url(#gB0)" />
<rect x="465.32" y="99.82" width="3.57" height="0.80" fill="#3e6bb2" opacity="0.75"/>
<rect x="468.89" y="64.38" width="3.57" height="48.92" fill="url(#gB1)" />
<rect x="468.89" y="64.38" width="3.57" height="0.80" fill="#bc392d" opacity="0.75"/>
<rect x="472.46" y="74.71" width="3.57" height="38.59" fill="url(#gB2)" />
<rect x="472.46" y="74.71" width="3.57" height="0.80" fill="#8db042" opacity="0.35"/>
<rect x="476.03" y="71.31" width="3.57" height="41.99" fill="url(#gB3)" />
<rect x="476.03" y="71.31" width="3.57" height="0.80" fill="#704499" opacity="0.75"/>
<text x="472.45" y="120.20" font-size="4.3" fill="#333" text-anchor="middle" textLength="10.09" lengthAdjust="spacingAndGlyphs"  stroke="#333" stroke-width="0.06">PTEN</text>
<rect x="484.38" y="101.37" width="3.57" height="11.93" fill="url(#gB0)" />
<rect x="484.38" y="101.37" width="3.57" height="0.80" fill="#3e6bb2" opacity="0.75"/>
<rect x="487.95" y="41.19" width="3.57" height="72.11" fill="url(#gB1)" />
<rect x="487.95" y="41.19" width="3.57" height="0.80" fill="#bc392d" opacity="0.75"/>
<rect x="491.52" y="64.00" width="3.57" height="49.30" fill="url(#gB2)" />
<rect x="491.52" y="64.00" width="3.57" height="0.80" fill="#8db042" opacity="0.35"/>
<text x="491.51" y="120.20" font-size="4.3" fill="#333" text-anchor="middle" textLength="9.04" lengthAdjust="spacingAndGlyphs"  stroke="#333" stroke-width="0.06">E2F2</text>
<rect x="503.44" y="103.36" width="3.57" height="9.94" fill="url(#gB0)" />
<rect x="503.44" y="103.36" width="3.57" height="0.80" fill="#3e6bb2" opacity="0.75"/>
<rect x="507.01" y="73.47" width="3.57" height="39.83" fill="url(#gB1)" />
<rect x="507.01" y="73.47" width="3.57" height="0.80" fill="#bc392d" opacity="0.75"/>
<rect x="510.58" y="72.92" width="3.57" height="40.38" fill="url(#gB2)" />
<rect x="510.58" y="72.92" width="3.57" height="0.80" fill="#8db042" opacity="0.35"/>
<rect x="514.15" y="82.36" width="3.57" height="30.94" fill="url(#gB3)" />
<rect x="514.15" y="82.36" width="3.57" height="0.80" fill="#704499" opacity="0.75"/>
<text x="510.57" y="120.20" font-size="4.3" fill="#333" text-anchor="middle" textLength="10.09" lengthAdjust="spacingAndGlyphs"  stroke="#333" stroke-width="0.06">CDK2</text>
<text x="25.70" y="145.30" font-size="6.6" fill="#222" text-anchor="start" textLength="108.50" lengthAdjust="spacingAndGlyphs"  stroke="#222" stroke-width="0.2">BT474-TR (HER2+/ER+) Xenografts</text>
<rect x="195.00" y="150.90" width="2.00" height="2.30" fill="#607cb2" />
<text x="199.00" y="153.60" font-size="4.3" fill="#333" text-anchor="start" textLength="36.33" lengthAdjust="spacingAndGlyphs"  stroke="#333" stroke-width="0.06">50 mpk Abemaciclib</text>
<rect x="195.00" y="158.40" width="2.00" height="2.30" fill="#b15c5c" />
<text x="199.00" y="161.10" font-size="4.3" fill="#333" text-anchor="start" textLength="36.33" lengthAdjust="spacingAndGlyphs"  stroke="#333" stroke-width="0.06">75 mpk Abemaciclib</text>
<rect x="195.00" y="166.00" width="2.00" height="2.30" fill="#92a969" />
<text x="199.00" y="168.70" font-size="4.3" fill="#333" text-anchor="start" textLength="39.62" lengthAdjust="spacingAndGlyphs"  stroke="#333" stroke-width="0.06">50-AB + Trastuzumab</text>
<rect x="195.00" y="173.90" width="2.00" height="2.30" fill="#8063a1" />
<text x="199.00" y="176.60" font-size="4.3" fill="#333" text-anchor="start" textLength="27.97" lengthAdjust="spacingAndGlyphs"  stroke="#333" stroke-width="0.06">50-AB + Tamox</text>
<rect x="195.00" y="181.50" width="2.00" height="2.30" fill="#5092b8" />
<text x="199.00" y="184.20" font-size="4.3" fill="#333" text-anchor="start" textLength="56.23" lengthAdjust="spacingAndGlyphs"  stroke="#333" stroke-width="0.06">50-AB + Trastuzumab + Tamox</text>
<line x1="23.30" y1="150.60" x2="23.30" y2="249.40" stroke="#8a8a8a" stroke-width="0.5"/>
<line x1="22.00" y1="249.40" x2="23.30" y2="249.40" stroke="#8a8a8a" stroke-width="0.5"/>
<text x="19.80" y="250.90" font-size="4.2" fill="#333" text-anchor="end" textLength="2.34" lengthAdjust="spacingAndGlyphs"  stroke="#333" stroke-width="0.06">0</text>
<line x1="22.00" y1="239.52" x2="23.30" y2="239.52" stroke="#8a8a8a" stroke-width="0.5"/>
<text x="19.80" y="241.02" font-size="4.2" fill="#333" text-anchor="end" textLength="4.67" lengthAdjust="spacingAndGlyphs"  stroke="#333" stroke-width="0.06">10</text>
<line x1="22.00" y1="229.64" x2="23.30" y2="229.64" stroke="#8a8a8a" stroke-width="0.5"/>
<text x="19.80" y="231.14" font-size="4.2" fill="#333" text-anchor="end" textLength="4.67" lengthAdjust="spacingAndGlyphs"  stroke="#333" stroke-width="0.06">20</text>
<line x1="22.00" y1="219.76" x2="23.30" y2="219.76" stroke="#8a8a8a" stroke-width="0.5"/>
<text x="19.80" y="221.26" font-size="4.2" fill="#333" text-anchor="end" textLength="4.67" lengthAdjust="spacingAndGlyphs"  stroke="#333" stroke-width="0.06">30</text>
<line x1="22.00" y1="209.88" x2="23.30" y2="209.88" stroke="#8a8a8a" stroke-width="0.5"/>
<text x="19.80" y="211.38" font-size="4.2" fill="#333" text-anchor="end" textLength="4.67" lengthAdjust="spacingAndGlyphs"  stroke="#333" stroke-width="0.06">40</text>
<line x1="22.00" y1="200.00" x2="23.30" y2="200.00" stroke="#8a8a8a" stroke-width="0.5"/>
<text x="19.80" y="201.50" font-size="4.2" fill="#333" text-anchor="end" textLength="4.67" lengthAdjust="spacingAndGlyphs"  stroke="#333" stroke-width="0.06">50</text>
<line x1="22.00" y1="190.12" x2="23.30" y2="190.12" stroke="#8a8a8a" stroke-width="0.5"/>
<text x="19.80" y="191.62" font-size="4.2" fill="#333" text-anchor="end" textLength="4.67" lengthAdjust="spacingAndGlyphs"  stroke="#333" stroke-width="0.06">60</text>
<line x1="22.00" y1="180.24" x2="23.30" y2="180.24" stroke="#8a8a8a" stroke-width="0.5"/>
<text x="19.80" y="181.74" font-size="4.2" fill="#333" text-anchor="end" textLength="4.67" lengthAdjust="spacingAndGlyphs"  stroke="#333" stroke-width="0.06">70</text>
<line x1="22.00" y1="170.36" x2="23.30" y2="170.36" stroke="#8a8a8a" stroke-width="0.5"/>
<text x="19.80" y="171.86" font-size="4.2" fill="#333" text-anchor="end" textLength="4.67" lengthAdjust="spacingAndGlyphs"  stroke="#333" stroke-width="0.06">80</text>
<line x1="22.00" y1="160.48" x2="23.30" y2="160.48" stroke="#8a8a8a" stroke-width="0.5"/>
<text x="19.80" y="161.98" font-size="4.2" fill="#333" text-anchor="end" textLength="4.67" lengthAdjust="spacingAndGlyphs"  stroke="#333" stroke-width="0.06">90</text>
<line x1="22.00" y1="150.60" x2="23.30" y2="150.60" stroke="#8a8a8a" stroke-width="0.5"/>
<text x="19.80" y="152.10" font-size="4.2" fill="#333" text-anchor="end" textLength="7.01" lengthAdjust="spacingAndGlyphs"  stroke="#333" stroke-width="0.06">100</text>
<line x1="23.30" y1="249.40" x2="286.00" y2="249.40" stroke="#8a8a8a" stroke-width="0.5"/>
<line x1="23.30" y1="249.40" x2="23.30" y2="250.70" stroke="#8a8a8a" stroke-width="0.5"/>
<line x1="52.37" y1="249.40" x2="52.37" y2="250.70" stroke="#8a8a8a" stroke-width="0.5"/>
<line x1="81.44" y1="249.40" x2="81.44" y2="250.70" stroke="#8a8a8a" stroke-width="0.5"/>
<line x1="110.51" y1="249.40" x2="110.51" y2="250.70" stroke="#8a8a8a" stroke-width="0.5"/>
<line x1="139.58" y1="249.40" x2="139.58" y2="250.70" stroke="#8a8a8a" stroke-width="0.5"/>
<line x1="168.65" y1="249.40" x2="168.65" y2="250.70" stroke="#8a8a8a" stroke-width="0.5"/>
<line x1="197.72" y1="249.40" x2="197.72" y2="250.70" stroke="#8a8a8a" stroke-width="0.5"/>
<line x1="226.79" y1="249.40" x2="226.79" y2="250.70" stroke="#8a8a8a" stroke-width="0.5"/>
<line x1="255.86" y1="249.40" x2="255.86" y2="250.70" stroke="#8a8a8a" stroke-width="0.5"/>
<line x1="284.93" y1="249.40" x2="284.93" y2="250.70" stroke="#8a8a8a" stroke-width="0.5"/>
<text transform="translate(9.60,183.80) rotate(-90)" font-size="6.3" fill="#222" stroke="#222" stroke-width="0.15" textLength="27.40" lengthAdjust="spacingAndGlyphs">expression</text>
<text transform="translate(9.60,201.90) rotate(-90)" font-size="6.3" fill="#222" stroke="#222" stroke-width="0.15" textLength="15.70" lengthAdjust="spacingAndGlyphs">gene</text>
<text transform="translate(9.60,210.20) rotate(-90)" font-size="6.3" fill="#222" stroke="#222" stroke-width="0.15" textLength="6.70" lengthAdjust="spacingAndGlyphs">of</text>
<text transform="translate(9.60,233.40) rotate(-90)" font-size="6.3" fill="#222" stroke="#222" stroke-width="0.15" textLength="21.50" lengthAdjust="spacingAndGlyphs">Inhibition</text>
<text transform="translate(9.60,241.90) rotate(-90)" font-size="6.3" fill="#222" stroke="#222" stroke-width="0.15" textLength="6.80" lengthAdjust="spacingAndGlyphs">%</text>
<rect x="27.00" y="171.84" width="4.60" height="77.56" fill="url(#gC0)" />
<rect x="27.00" y="171.84" width="4.60" height="0.80" fill="#3e6bb2" opacity="0.75"/>
<rect x="31.60" y="156.13" width="4.60" height="93.27" fill="url(#gC1)" />
<rect x="31.60" y="156.13" width="4.60" height="0.80" fill="#bc392d" opacity="0.75"/>
<rect x="36.20" y="157.52" width="4.60" height="91.88" fill="url(#gC2)" />
<rect x="36.20" y="157.52" width="4.60" height="0.80" fill="#8db042" opacity="0.35"/>
<rect x="40.80" y="157.02" width="4.60" height="92.38" fill="url(#gC3)" />
<rect x="40.80" y="157.02" width="4.60" height="0.80" fill="#704499" opacity="0.75"/>
<rect x="45.40" y="155.84" width="4.60" height="93.56" fill="url(#gC4)" />
<rect x="45.40" y="155.84" width="4.60" height="0.80" fill="#278dbc" opacity="0.75"/>
<text x="37.84" y="256.30" font-size="4.3" fill="#333" text-anchor="middle" textLength="15.28" lengthAdjust="spacingAndGlyphs"  stroke="#333" stroke-width="0.06">TOPO2A</text>
<rect x="56.07" y="175.89" width="4.60" height="73.51" fill="url(#gC0)" />
<rect x="56.07" y="175.89" width="4.60" height="0.80" fill="#3e6bb2" opacity="0.75"/>
<rect x="60.67" y="156.13" width="4.60" height="93.27" fill="url(#gC1)" />
<rect x="60.67" y="156.13" width="4.60" height="0.80" fill="#bc392d" opacity="0.75"/>
<rect x="65.27" y="157.12" width="4.60" height="92.28" fill="url(#gC2)" />
<rect x="65.27" y="157.12" width="4.60" height="0.80" fill="#8db042" opacity="0.35"/>
<rect x="69.87" y="157.71" width="4.60" height="91.69" fill="url(#gC3)" />
<rect x="69.87" y="157.71" width="4.60" height="0.80" fill="#704499" opacity="0.75"/>
<rect x="74.47" y="155.84" width="4.60" height="93.56" fill="url(#gC4)" />
<rect x="74.47" y="155.84" width="4.60" height="0.80" fill="#278dbc" opacity="0.75"/>
<text x="66.91" y="256.30" font-size="4.3" fill="#333" text-anchor="middle" textLength="10.94" lengthAdjust="spacingAndGlyphs"  stroke="#333" stroke-width="0.06">MKI67</text>
<rect x="85.14" y="185.38" width="4.60" height="64.02" fill="url(#gC0)" />
<rect x="85.14" y="185.38" width="4.60" height="0.80" fill="#3e6bb2" opacity="0.75"/>
<rect x="89.74" y="157.52" width="4.60" height="91.88" fill="url(#gC1)" />
<rect x="89.74" y="157.52" width="4.60" height="0.80" fill="#bc392d" opacity="0.75"/>
<rect x="94.34" y="157.52" width="4.60" height="91.88" fill="url(#gC2)" />
<rect x="94.34" y="157.52" width="4.60" height="0.80" fill="#8db042" opacity="0.35"/>
<rect x="98.94" y="159.69" width="4.60" height="89.71" fill="url(#gC3)" />
<rect x="98.94" y="159.69" width="4.60" height="0.80" fill="#704499" opacity="0.75"/>
<rect x="103.54" y="155.84" width="4.60" height="93.56" fill="url(#gC4)" />
<rect x="103.54" y="155.84" width="4.60" height="0.80" fill="#278dbc" opacity="0.75"/>
<text x="95.97" y="256.30" font-size="4.3" fill="#333" text-anchor="middle" textLength="13.04" lengthAdjust="spacingAndGlyphs"  stroke="#333" stroke-width="0.06">FOXM1</text>
<rect x="114.21" y="218.77" width="4.60" height="30.63" fill="url(#gC0)" />
<rect x="114.21" y="218.77" width="4.60" height="0.80" fill="#3e6bb2" opacity="0.75"/>
<rect x="118.81" y="157.12" width="4.60" height="92.28" fill="url(#gC1)" />
<rect x="118.81" y="157.12" width="4.60" height="0.80" fill="#bc392d" opacity="0.75"/>
<rect x="123.41" y="162.95" width="4.60" height="86.45" fill="url(#gC2)" />
<rect x="123.41" y="162.95" width="4.60" height="0.80" fill="#8db042" opacity="0.35"/>
<rect x="128.01" y="166.11" width="4.60" height="83.29" fill="url(#gC3)" />
<rect x="128.01" y="166.11" width="4.60" height="0.80" fill="#704499" opacity="0.75"/>
<rect x="132.61" y="158.21" width="4.60" height="91.19" fill="url(#gC4)" />
<rect x="132.61" y="158.21" width="4.60" height="0.80" fill="#278dbc" opacity="0.75"/>
<text x="125.05" y="256.30" font-size="4.3" fill="#333" text-anchor="middle" textLength="10.72" lengthAdjust="spacingAndGlyphs"  stroke="#333" stroke-width="0.06">RRM2</text>
<rect x="143.28" y="222.43" width="4.60" height="26.97" fill="url(#gC0)" />
<rect x="143.28" y="222.43" width="4.60" height="0.80" fill="#3e6bb2" opacity="0.75"/>
<rect x="147.88" y="173.52" width="4.60" height="75.88" fill="url(#gC1)" />
<rect x="147.88" y="173.52" width="4.60" height="0.80" fill="#bc392d" opacity="0.75"/>
<rect x="152.48" y="180.73" width="4.60" height="68.67" fill="url(#gC2)" />
<rect x="152.48" y="180.73" width="4.60" height="0.80" fill="#8db042" opacity="0.35"/>
<rect x="157.08" y="190.52" width="4.60" height="58.88" fill="url(#gC3)" />
<rect x="157.08" y="190.52" width="4.60" height="0.80" fill="#704499" opacity="0.75"/>
<rect x="161.68" y="172.34" width="4.60" height="77.06" fill="url(#gC4)" />
<rect x="161.68" y="172.34" width="4.60" height="0.80" fill="#278dbc" opacity="0.75"/>
<text x="154.12" y="256.30" font-size="4.3" fill="#333" text-anchor="middle" textLength="11.14" lengthAdjust="spacingAndGlyphs"  stroke="#333" stroke-width="0.06">MCM7</text>
<rect x="172.35" y="223.51" width="4.60" height="25.89" fill="url(#gC0)" />
<rect x="172.35" y="223.51" width="4.60" height="0.80" fill="#3e6bb2" opacity="0.75"/>
<rect x="176.95" y="205.93" width="4.60" height="43.47" fill="url(#gC1)" />
<rect x="176.95" y="205.93" width="4.60" height="0.80" fill="#bc392d" opacity="0.75"/>
<rect x="181.55" y="220.35" width="4.60" height="29.05" fill="url(#gC2)" />
<rect x="181.55" y="220.35" width="4.60" height="0.80" fill="#8db042" opacity="0.35"/>
<rect x="186.15" y="222.23" width="4.60" height="27.17" fill="url(#gC3)" />
<rect x="186.15" y="222.23" width="4.60" height="0.80" fill="#704499" opacity="0.75"/>
<rect x="190.75" y="211.66" width="4.60" height="37.74" fill="url(#gC4)" />
<rect x="190.75" y="211.66" width="4.60" height="0.80" fill="#278dbc" opacity="0.75"/>
<text x="183.19" y="256.30" font-size="4.3" fill="#333" text-anchor="middle" textLength="10.09" lengthAdjust="spacingAndGlyphs"  stroke="#333" stroke-width="0.06">CDK4</text>
<rect x="201.42" y="232.51" width="4.60" height="16.89" fill="url(#gC0)" />
<rect x="201.42" y="232.51" width="4.60" height="0.80" fill="#3e6bb2" opacity="0.75"/>
<rect x="206.02" y="211.66" width="4.60" height="37.74" fill="url(#gC1)" />
<rect x="206.02" y="211.66" width="4.60" height="0.80" fill="#bc392d" opacity="0.75"/>
<rect x="210.62" y="227.37" width="4.60" height="22.03" fill="url(#gC2)" />
<rect x="210.62" y="227.37" width="4.60" height="0.80" fill="#8db042" opacity="0.35"/>
<rect x="215.22" y="241.79" width="4.60" height="7.61" fill="url(#gC3)" />
<rect x="215.22" y="241.79" width="4.60" height="0.80" fill="#704499" opacity="0.75"/>
<rect x="219.82" y="239.52" width="4.60" height="9.88" fill="url(#gC4)" />
<rect x="219.82" y="239.52" width="4.60" height="0.80" fill="#278dbc" opacity="0.75"/>
<text x="212.26" y="256.30" font-size="4.3" fill="#333" text-anchor="middle" textLength="24.40" lengthAdjust="spacingAndGlyphs"  stroke="#333" stroke-width="0.06">RB-1 EX25-26</text>
<rect x="230.49" y="237.64" width="4.60" height="11.76" fill="url(#gC0)" />
<rect x="230.49" y="237.64" width="4.60" height="0.80" fill="#3e6bb2" opacity="0.75"/>
<rect x="235.09" y="213.73" width="4.60" height="35.67" fill="url(#gC1)" />
<rect x="235.09" y="213.73" width="4.60" height="0.80" fill="#bc392d" opacity="0.75"/>
<rect x="239.69" y="232.21" width="4.60" height="17.19" fill="url(#gC2)" />
<rect x="239.69" y="232.21" width="4.60" height="0.80" fill="#8db042" opacity="0.35"/>
<rect x="244.29" y="244.16" width="4.60" height="5.24" fill="url(#gC3)" />
<rect x="244.29" y="244.16" width="4.60" height="0.80" fill="#704499" opacity="0.75"/>
<rect x="248.89" y="238.63" width="4.60" height="10.77" fill="url(#gC4)" />
<rect x="248.89" y="238.63" width="4.60" height="0.80" fill="#278dbc" opacity="0.75"/>
<text x="241.33" y="256.30" font-size="4.3" fill="#333" text-anchor="middle" textLength="24.40" lengthAdjust="spacingAndGlyphs"  stroke="#333" stroke-width="0.06">RB-1 EX17-18</text>
<rect x="259.56" y="239.52" width="4.60" height="9.88" fill="url(#gC0)" />
<rect x="259.56" y="239.52" width="4.60" height="0.80" fill="#3e6bb2" opacity="0.75"/>
<rect x="264.16" y="186.46" width="4.60" height="62.94" fill="url(#gC1)" />
<rect x="264.16" y="186.46" width="4.60" height="0.80" fill="#bc392d" opacity="0.75"/>
<rect x="268.76" y="203.95" width="4.60" height="45.45" fill="url(#gC2)" />
<rect x="268.76" y="203.95" width="4.60" height="0.80" fill="#8db042" opacity="0.35"/>
<rect x="273.36" y="207.90" width="4.60" height="41.50" fill="url(#gC3)" />
<rect x="273.36" y="207.90" width="4.60" height="0.80" fill="#704499" opacity="0.75"/>
<rect x="277.96" y="201.19" width="4.60" height="48.21" fill="url(#gC4)" />
<rect x="277.96" y="201.19" width="4.60" height="0.80" fill="#278dbc" opacity="0.75"/>
<text x="270.39" y="256.30" font-size="4.3" fill="#333" text-anchor="middle" textLength="10.09" lengthAdjust="spacingAndGlyphs"  stroke="#333" stroke-width="0.06">CDK2</text>
<rect x="325.00" y="166.70" width="29.70" height="7.90" fill="#fababc" />
<text x="339.85" y="172.15" font-size="4.2" fill="#222" text-anchor="middle" textLength="10.51" lengthAdjust="spacingAndGlyphs"  stroke="#222" stroke-width="0.06">74.52</text>
<rect x="355.50" y="166.70" width="28.20" height="7.90" fill="#f87678" />
<text x="369.60" y="172.15" font-size="4.2" fill="#222" text-anchor="middle" textLength="10.51" lengthAdjust="spacingAndGlyphs"  stroke="#222" stroke-width="0.06">93.05</text>
<rect x="384.50" y="166.70" width="31.20" height="7.90" fill="#63be7b" />
<text x="400.10" y="172.15" font-size="4.2" fill="#222" text-anchor="middle" textLength="8.17" lengthAdjust="spacingAndGlyphs"  stroke="#222" stroke-width="0.06">0.00</text>
<rect x="416.50" y="166.70" width="31.20" height="7.90" fill="#90d0a2" />
<text x="432.10" y="172.15" font-size="4.2" fill="#222" text-anchor="middle" textLength="10.51" lengthAdjust="spacingAndGlyphs"  stroke="#222" stroke-width="0.06">13.45</text>
<rect x="448.50" y="166.70" width="30.70" height="7.90" fill="#f97d7f" />
<text x="463.85" y="172.15" font-size="4.2" fill="#222" text-anchor="middle" textLength="10.51" lengthAdjust="spacingAndGlyphs"  stroke="#222" stroke-width="0.06">86.73</text>
<rect x="480.00" y="166.70" width="29.70" height="7.90" fill="#f86a6c" />
<text x="494.85" y="172.15" font-size="4.2" fill="#222" text-anchor="middle" textLength="10.51" lengthAdjust="spacingAndGlyphs"  stroke="#222" stroke-width="0.06">94.00</text>
<text x="306.80" y="172.15" font-size="4.3" fill="#555" text-anchor="start" textLength="12.83" lengthAdjust="spacingAndGlyphs"  stroke="#555" stroke-width="0.06">CCNB1</text>
<rect x="325.00" y="174.60" width="29.70" height="7.90" fill="#fbd5d7" />
<text x="339.85" y="180.05" font-size="4.2" fill="#222" text-anchor="middle" textLength="10.51" lengthAdjust="spacingAndGlyphs"  stroke="#222" stroke-width="0.06">67.20</text>
<rect x="355.50" y="174.60" width="28.20" height="7.90" fill="#f8696b" />
<text x="369.60" y="180.05" font-size="4.2" fill="#222" text-anchor="middle" textLength="10.51" lengthAdjust="spacingAndGlyphs"  stroke="#222" stroke-width="0.06">96.56</text>
<rect x="384.50" y="174.60" width="31.20" height="7.90" fill="#fbe7ea" />
<text x="400.10" y="180.05" font-size="4.2" fill="#222" text-anchor="middle" textLength="10.51" lengthAdjust="spacingAndGlyphs"  stroke="#222" stroke-width="0.06">52.28</text>
<rect x="416.50" y="174.60" width="31.20" height="7.90" fill="#f87375" />
<text x="432.10" y="180.05" font-size="4.2" fill="#222" text-anchor="middle" textLength="10.51" lengthAdjust="spacingAndGlyphs"  stroke="#222" stroke-width="0.06">91.20</text>
<rect x="448.50" y="174.60" width="30.70" height="7.90" fill="#e3f2e9" />
<text x="463.85" y="180.05" font-size="4.2" fill="#222" text-anchor="middle" textLength="10.51" lengthAdjust="spacingAndGlyphs"  stroke="#222" stroke-width="0.06">31.53</text>
<rect x="480.00" y="174.60" width="29.70" height="7.90" fill="#f86c6e" />
<text x="494.85" y="180.05" font-size="4.2" fill="#222" text-anchor="middle" textLength="10.51" lengthAdjust="spacingAndGlyphs"  stroke="#222" stroke-width="0.06">93.37</text>
<text x="306.80" y="180.05" font-size="4.3" fill="#111" text-anchor="start" font-weight="bold" textLength="10.72" lengthAdjust="spacingAndGlyphs"  stroke="#111" stroke-width="0.06">RRM2</text>
<rect x="325.00" y="182.50" width="29.70" height="7.90" fill="#fcebee" />
<text x="339.85" y="187.95" font-size="4.2" fill="#222" text-anchor="middle" textLength="10.51" lengthAdjust="spacingAndGlyphs"  stroke="#222" stroke-width="0.06">61.15</text>
<rect x="355.50" y="182.50" width="28.20" height="7.90" fill="#f99699" />
<text x="369.60" y="187.95" font-size="4.2" fill="#222" text-anchor="middle" textLength="10.51" lengthAdjust="spacingAndGlyphs"  stroke="#222" stroke-width="0.06">84.21</text>
<rect x="384.50" y="182.50" width="31.20" height="7.90" fill="#f99da0" />
<text x="400.10" y="187.95" font-size="4.2" fill="#222" text-anchor="middle" textLength="10.51" lengthAdjust="spacingAndGlyphs"  stroke="#222" stroke-width="0.06">76.96</text>
<rect x="416.50" y="182.50" width="31.20" height="7.90" fill="#f8696b" />
<text x="432.10" y="187.95" font-size="4.2" fill="#222" text-anchor="middle" textLength="10.51" lengthAdjust="spacingAndGlyphs"  stroke="#222" stroke-width="0.06">94.42</text>
<rect x="448.50" y="182.50" width="30.70" height="7.90" fill="#f99294" />
<text x="463.85" y="187.95" font-size="4.2" fill="#222" text-anchor="middle" textLength="10.51" lengthAdjust="spacingAndGlyphs"  stroke="#222" stroke-width="0.06">78.73</text>
<rect x="480.00" y="182.50" width="29.70" height="7.90" fill="#f8696b" />
<text x="494.85" y="187.95" font-size="4.2" fill="#222" text-anchor="middle" textLength="10.51" lengthAdjust="spacingAndGlyphs"  stroke="#222" stroke-width="0.06">94.33</text>
<text x="306.80" y="187.95" font-size="4.3" fill="#111" text-anchor="start" font-weight="bold" textLength="15.49" lengthAdjust="spacingAndGlyphs"  stroke="#111" stroke-width="0.06">TOPO2A</text>
<rect x="325.00" y="190.40" width="29.70" height="7.90" fill="#f9fbfd" />
<text x="339.85" y="195.85" font-size="4.2" fill="#222" text-anchor="middle" textLength="10.51" lengthAdjust="spacingAndGlyphs"  stroke="#222" stroke-width="0.06">55.43</text>
<rect x="355.50" y="190.40" width="28.20" height="7.90" fill="#f9888a" />
<text x="369.60" y="195.85" font-size="4.2" fill="#222" text-anchor="middle" textLength="10.51" lengthAdjust="spacingAndGlyphs"  stroke="#222" stroke-width="0.06">88.23</text>
<rect x="384.50" y="190.40" width="31.20" height="7.90" fill="#fab0b3" />
<text x="400.10" y="195.85" font-size="4.2" fill="#222" text-anchor="middle" textLength="10.51" lengthAdjust="spacingAndGlyphs"  stroke="#222" stroke-width="0.06">70.66</text>
<rect x="416.50" y="190.40" width="31.20" height="7.90" fill="#f86a6c" />
<text x="432.10" y="195.85" font-size="4.2" fill="#222" text-anchor="middle" textLength="10.51" lengthAdjust="spacingAndGlyphs"  stroke="#222" stroke-width="0.06">94.22</text>
<rect x="448.50" y="190.40" width="30.70" height="7.90" fill="#f99d9f" />
<text x="463.85" y="195.85" font-size="4.2" fill="#222" text-anchor="middle" textLength="10.51" lengthAdjust="spacingAndGlyphs"  stroke="#222" stroke-width="0.06">74.50</text>
<rect x="480.00" y="190.40" width="29.70" height="7.90" fill="#f8696b" />
<text x="494.85" y="195.85" font-size="4.2" fill="#222" text-anchor="middle" textLength="10.51" lengthAdjust="spacingAndGlyphs"  stroke="#222" stroke-width="0.06">94.50</text>
<text x="306.80" y="195.85" font-size="4.3" fill="#111" text-anchor="start" font-weight="bold" textLength="11.15" lengthAdjust="spacingAndGlyphs"  stroke="#111" stroke-width="0.06">MKI67</text>
<rect x="325.00" y="198.30" width="29.70" height="7.90" fill="#bce2c8" />
<text x="339.85" y="203.75" font-size="4.2" fill="#222" text-anchor="middle" textLength="10.51" lengthAdjust="spacingAndGlyphs"  stroke="#222" stroke-width="0.06">32.82</text>
<rect x="355.50" y="198.30" width="28.20" height="7.90" fill="#f99799" />
<text x="369.60" y="203.75" font-size="4.2" fill="#222" text-anchor="middle" textLength="10.51" lengthAdjust="spacingAndGlyphs"  stroke="#222" stroke-width="0.06">84.09</text>
<rect x="384.50" y="198.30" width="31.20" height="7.90" fill="#63be7b" />
<text x="400.10" y="203.75" font-size="4.2" fill="#222" text-anchor="middle" textLength="8.17" lengthAdjust="spacingAndGlyphs"  stroke="#222" stroke-width="0.06">0.00</text>
<rect x="416.50" y="198.30" width="31.20" height="7.90" fill="#fbdee1" />
<text x="432.10" y="203.75" font-size="4.2" fill="#222" text-anchor="middle" textLength="10.51" lengthAdjust="spacingAndGlyphs"  stroke="#222" stroke-width="0.06">55.28</text>
<rect x="448.50" y="198.30" width="30.70" height="7.90" fill="#6ac181" />
<text x="463.85" y="203.75" font-size="4.2" fill="#222" text-anchor="middle" textLength="8.17" lengthAdjust="spacingAndGlyphs"  stroke="#222" stroke-width="0.06">0.00</text>
<rect x="480.00" y="198.30" width="29.70" height="7.90" fill="#fab4b7" />
<text x="494.85" y="203.75" font-size="4.2" fill="#222" text-anchor="middle" textLength="10.51" lengthAdjust="spacingAndGlyphs"  stroke="#222" stroke-width="0.06">65.70</text>
<text x="306.80" y="203.75" font-size="4.3" fill="#555" text-anchor="start" textLength="9.04" lengthAdjust="spacingAndGlyphs"  stroke="#555" stroke-width="0.06">E2F1</text>
<rect x="325.00" y="206.20" width="29.70" height="7.90" fill="#b3dec0" />
<text x="339.85" y="211.65" font-size="4.2" fill="#222" text-anchor="middle" textLength="10.51" lengthAdjust="spacingAndGlyphs"  stroke="#222" stroke-width="0.06">29.38</text>
<rect x="355.50" y="206.20" width="28.20" height="7.90" fill="#fab4b6" />
<text x="369.60" y="211.65" font-size="4.2" fill="#222" text-anchor="middle" textLength="10.51" lengthAdjust="spacingAndGlyphs"  stroke="#222" stroke-width="0.06">76.18</text>
<rect x="384.50" y="206.20" width="31.20" height="7.90" fill="#b8e1c5" />
<text x="400.10" y="211.65" font-size="4.2" fill="#222" text-anchor="middle" textLength="10.51" lengthAdjust="spacingAndGlyphs"  stroke="#222" stroke-width="0.06">25.37</text>
<rect x="416.50" y="206.20" width="31.20" height="7.90" fill="#faa4a6" />
<text x="432.10" y="211.65" font-size="4.2" fill="#222" text-anchor="middle" textLength="10.51" lengthAdjust="spacingAndGlyphs"  stroke="#222" stroke-width="0.06">74.84</text>
<rect x="448.50" y="206.20" width="30.70" height="7.90" fill="#d7eddf" />
<text x="463.85" y="211.65" font-size="4.2" fill="#222" text-anchor="middle" textLength="10.51" lengthAdjust="spacingAndGlyphs"  stroke="#222" stroke-width="0.06">28.30</text>
<rect x="480.00" y="206.20" width="29.70" height="7.90" fill="#f99698" />
<text x="494.85" y="211.65" font-size="4.2" fill="#222" text-anchor="middle" textLength="10.51" lengthAdjust="spacingAndGlyphs"  stroke="#222" stroke-width="0.06">77.37</text>
<text x="306.80" y="211.65" font-size="4.3" fill="#111" text-anchor="start" font-weight="bold" textLength="11.14" lengthAdjust="spacingAndGlyphs"  stroke="#111" stroke-width="0.06">MCM7</text>
<rect x="325.00" y="214.10" width="29.70" height="7.90" fill="#addcbb" />
<text x="339.85" y="219.55" font-size="4.2" fill="#222" text-anchor="middle" textLength="10.51" lengthAdjust="spacingAndGlyphs"  stroke="#222" stroke-width="0.06">27.21</text>
<rect x="355.50" y="214.10" width="28.20" height="7.90" fill="#cae8d4" />
<text x="369.60" y="219.55" font-size="4.2" fill="#222" text-anchor="middle" textLength="10.51" lengthAdjust="spacingAndGlyphs"  stroke="#222" stroke-width="0.06">38.17</text>
<rect x="384.50" y="214.10" width="31.20" height="7.90" fill="#9dd5ad" />
<text x="400.10" y="219.55" font-size="4.2" fill="#222" text-anchor="middle" textLength="10.51" lengthAdjust="spacingAndGlyphs"  stroke="#222" stroke-width="0.06">17.10</text>
<rect x="416.50" y="214.10" width="31.20" height="7.90" fill="#dcefe4" />
<text x="432.10" y="219.55" font-size="4.2" fill="#222" text-anchor="middle" textLength="10.51" lengthAdjust="spacingAndGlyphs"  stroke="#222" stroke-width="0.06">35.95</text>
<rect x="448.50" y="214.10" width="30.70" height="7.90" fill="#d1ebda" />
<text x="463.85" y="219.55" font-size="4.2" fill="#222" text-anchor="middle" textLength="10.51" lengthAdjust="spacingAndGlyphs"  stroke="#222" stroke-width="0.06">26.87</text>
<rect x="480.00" y="214.10" width="29.70" height="7.90" fill="#fcebee" />
<text x="494.85" y="219.55" font-size="4.2" fill="#222" text-anchor="middle" textLength="10.51" lengthAdjust="spacingAndGlyphs"  stroke="#222" stroke-width="0.06">44.57</text>
<text x="306.80" y="219.55" font-size="4.3" fill="#111" text-anchor="start" font-weight="bold" textLength="10.30" lengthAdjust="spacingAndGlyphs"  stroke="#111" stroke-width="0.06">CDK4</text>
<rect x="325.00" y="222.00" width="29.70" height="7.90" fill="#8ecfa0" />
<text x="339.85" y="227.45" font-size="4.2" fill="#222" text-anchor="middle" textLength="10.51" lengthAdjust="spacingAndGlyphs"  stroke="#222" stroke-width="0.06">15.86</text>
<rect x="355.50" y="222.00" width="28.20" height="7.90" fill="#fcf8fb" />
<text x="369.60" y="227.45" font-size="4.2" fill="#222" text-anchor="middle" textLength="10.51" lengthAdjust="spacingAndGlyphs"  stroke="#222" stroke-width="0.06">57.55</text>
<rect x="384.50" y="222.00" width="31.20" height="7.90" fill="#cce9d6" />
<text x="400.10" y="227.45" font-size="4.2" fill="#222" text-anchor="middle" textLength="10.51" lengthAdjust="spacingAndGlyphs"  stroke="#222" stroke-width="0.06">31.22</text>
<rect x="416.50" y="222.00" width="31.20" height="7.90" fill="#c8e7d3" />
<text x="432.10" y="227.45" font-size="4.2" fill="#222" text-anchor="middle" textLength="10.51" lengthAdjust="spacingAndGlyphs"  stroke="#222" stroke-width="0.06">30.10</text>
<rect x="448.50" y="222.00" width="30.70" height="7.90" fill="#6ac181" />
<text x="463.85" y="227.45" font-size="4.2" fill="#222" text-anchor="middle" textLength="8.17" lengthAdjust="spacingAndGlyphs"  stroke="#222" stroke-width="0.06">0.00</text>
<rect x="480.00" y="222.00" width="29.70" height="7.90" fill="#6ac181" />
<text x="494.85" y="227.45" font-size="4.2" fill="#222" text-anchor="middle" textLength="8.17" lengthAdjust="spacingAndGlyphs"  stroke="#222" stroke-width="0.06">0.00</text>
<text x="306.80" y="227.45" font-size="4.3" fill="#555" text-anchor="start" textLength="10.09" lengthAdjust="spacingAndGlyphs"  stroke="#555" stroke-width="0.06">PTEN</text>
<rect x="325.00" y="229.90" width="29.70" height="7.90" fill="#89cd9c" />
<text x="339.85" y="235.35" font-size="4.2" fill="#222" text-anchor="middle" textLength="10.51" lengthAdjust="spacingAndGlyphs"  stroke="#222" stroke-width="0.06">14.04</text>
<rect x="355.50" y="229.90" width="28.20" height="7.90" fill="#f99496" />
<text x="369.60" y="235.35" font-size="4.2" fill="#222" text-anchor="middle" textLength="10.51" lengthAdjust="spacingAndGlyphs"  stroke="#222" stroke-width="0.06">84.83</text>
<rect x="384.50" y="229.90" width="31.20" height="7.90" fill="#e5f3eb" />
<text x="400.10" y="235.35" font-size="4.2" fill="#222" text-anchor="middle" textLength="10.51" lengthAdjust="spacingAndGlyphs"  stroke="#222" stroke-width="0.06">38.53</text>
<rect x="416.50" y="229.90" width="31.20" height="7.90" fill="#fac4c6" />
<text x="432.10" y="235.35" font-size="4.2" fill="#222" text-anchor="middle" textLength="10.51" lengthAdjust="spacingAndGlyphs"  stroke="#222" stroke-width="0.06">64.21</text>
<rect x="448.50" y="229.90" width="30.70" height="7.90" fill="#55b06d" />
<text x="463.85" y="235.35" font-size="4.2" fill="#222" text-anchor="middle" textLength="9.57" lengthAdjust="spacingAndGlyphs"  stroke="#222" stroke-width="0.06">-1.80</text>
<rect x="480.00" y="229.90" width="29.70" height="7.90" fill="#a3d8b2" />
<text x="494.85" y="235.35" font-size="4.2" fill="#222" text-anchor="middle" textLength="10.51" lengthAdjust="spacingAndGlyphs"  stroke="#222" stroke-width="0.06">14.77</text>
<text x="306.80" y="235.35" font-size="4.3" fill="#555" text-anchor="start" textLength="9.04" lengthAdjust="spacingAndGlyphs"  stroke="#555" stroke-width="0.06">E2F2</text>
<rect x="325.00" y="237.80" width="29.70" height="7.90" fill="#83cb96" />
<text x="339.85" y="243.25" font-size="4.2" fill="#222" text-anchor="middle" textLength="10.20" lengthAdjust="spacingAndGlyphs"  stroke="#222" stroke-width="0.06">11.69</text>
<rect x="355.50" y="237.80" width="28.20" height="7.90" fill="#e2f1e8" />
<text x="369.60" y="243.25" font-size="4.2" fill="#222" text-anchor="middle" textLength="10.51" lengthAdjust="spacingAndGlyphs"  stroke="#222" stroke-width="0.06">46.86</text>
<rect x="384.50" y="237.80" width="31.20" height="7.90" fill="#a7dab6" />
<text x="400.10" y="243.25" font-size="4.2" fill="#222" text-anchor="middle" textLength="10.51" lengthAdjust="spacingAndGlyphs"  stroke="#222" stroke-width="0.06">20.32</text>
<rect x="416.50" y="237.80" width="31.20" height="7.90" fill="#fbd9db" />
<text x="432.10" y="243.25" font-size="4.2" fill="#222" text-anchor="middle" textLength="10.51" lengthAdjust="spacingAndGlyphs"  stroke="#222" stroke-width="0.06">57.23</text>
<rect x="448.50" y="237.80" width="30.70" height="7.90" fill="#94d2a5" />
<text x="463.85" y="243.25" font-size="4.2" fill="#222" text-anchor="middle" textLength="10.20" lengthAdjust="spacingAndGlyphs"  stroke="#222" stroke-width="0.06">11.03</text>
<rect x="480.00" y="237.80" width="29.70" height="7.90" fill="#fab7b9" />
<text x="494.85" y="243.25" font-size="4.2" fill="#222" text-anchor="middle" textLength="10.51" lengthAdjust="spacingAndGlyphs"  stroke="#222" stroke-width="0.06">64.63</text>
<text x="306.80" y="243.25" font-size="4.3" fill="#111" text-anchor="start" font-weight="bold" textLength="10.30" lengthAdjust="spacingAndGlyphs"  stroke="#111" stroke-width="0.06">CDK2</text>
<rect x="325.00" y="245.70" width="29.70" height="7.90" fill="#63be7b" />
<text x="339.85" y="251.15" font-size="4.2" fill="#222" text-anchor="middle" textLength="8.17" lengthAdjust="spacingAndGlyphs"  stroke="#222" stroke-width="0.06">0.00</text>
<rect x="355.50" y="245.70" width="28.20" height="7.90" fill="#87cd9a" />
<text x="369.60" y="251.15" font-size="4.2" fill="#222" text-anchor="middle" textLength="10.51" lengthAdjust="spacingAndGlyphs"  stroke="#222" stroke-width="0.06">13.25</text>
<rect x="384.50" y="245.70" width="31.20" height="7.90" fill="#b4dfc1" />
<text x="400.10" y="251.15" font-size="4.2" fill="#222" text-anchor="middle" textLength="10.51" lengthAdjust="spacingAndGlyphs"  stroke="#222" stroke-width="0.06">24.16</text>
<rect x="416.50" y="245.70" width="31.20" height="7.90" fill="#fbe6e9" />
<text x="432.10" y="251.15" font-size="4.2" fill="#222" text-anchor="middle" textLength="10.51" lengthAdjust="spacingAndGlyphs"  stroke="#222" stroke-width="0.06">52.63</text>
<rect x="448.50" y="245.70" width="30.70" height="7.90" fill="#6ec385" />
<text x="463.85" y="251.15" font-size="4.2" fill="#222" text-anchor="middle" textLength="8.17" lengthAdjust="spacingAndGlyphs"  stroke="#222" stroke-width="0.06">1.13</text>
<rect x="480.00" y="245.70" width="29.70" height="7.90" fill="#6ac181" />
<text x="494.85" y="251.15" font-size="4.2" fill="#222" text-anchor="middle" textLength="8.17" lengthAdjust="spacingAndGlyphs"  stroke="#222" stroke-width="0.06">0.00</text>
<text x="306.80" y="251.15" font-size="4.3" fill="#555" text-anchor="start" textLength="9.47" lengthAdjust="spacingAndGlyphs"  stroke="#555" stroke-width="0.06">RBL1</text>
<text x="354.40" y="154.00" font-size="5.0" fill="#111" text-anchor="middle" font-weight="bold" textLength="13.44" lengthAdjust="spacingAndGlyphs"  stroke="#111" stroke-width="0.06">MCF-7</text>
<text x="416.30" y="154.00" font-size="5.0" fill="#111" text-anchor="middle" font-weight="bold" textLength="16.14" lengthAdjust="spacingAndGlyphs"  stroke="#111" stroke-width="0.06">ZR-75-1</text>
<text x="479.80" y="154.00" font-size="5.0" fill="#111" text-anchor="middle" font-weight="bold" textLength="20.54" lengthAdjust="spacingAndGlyphs"  stroke="#111" stroke-width="0.06">BT474-TR</text>
<line x1="325.00" y1="155.20" x2="511.00" y2="155.20" stroke="#444" stroke-width="0.7"/>
<text x="339.85" y="160.20" font-size="4.0" fill="#333" text-anchor="middle" textLength="13.50" lengthAdjust="spacingAndGlyphs"  stroke="#333" stroke-width="0.06">50 mg/kg</text>
<text x="339.85" y="165.00" font-size="4.0" fill="#333" text-anchor="middle" textLength="21.00" lengthAdjust="spacingAndGlyphs"  stroke="#333" stroke-width="0.06">Abemaciclib</text>
<text x="369.60" y="160.20" font-size="4.0" fill="#333" text-anchor="middle" textLength="13.50" lengthAdjust="spacingAndGlyphs"  stroke="#333" stroke-width="0.06">75 mg/kg</text>
<text x="369.60" y="165.00" font-size="4.0" fill="#333" text-anchor="middle" textLength="21.00" lengthAdjust="spacingAndGlyphs"  stroke="#333" stroke-width="0.06">Abemaciclib</text>
<text x="400.10" y="160.20" font-size="4.0" fill="#333" text-anchor="middle" textLength="13.50" lengthAdjust="spacingAndGlyphs"  stroke="#333" stroke-width="0.06">50 mg/kg</text>
<text x="400.10" y="165.00" font-size="4.0" fill="#333" text-anchor="middle" textLength="21.00" lengthAdjust="spacingAndGlyphs"  stroke="#333" stroke-width="0.06">Abemaciclib</text>
<text x="432.10" y="160.20" font-size="4.0" fill="#333" text-anchor="middle" textLength="13.50" lengthAdjust="spacingAndGlyphs"  stroke="#333" stroke-width="0.06">75 mg/kg</text>
<text x="432.10" y="165.00" font-size="4.0" fill="#333" text-anchor="middle" textLength="21.00" lengthAdjust="spacingAndGlyphs"  stroke="#333" stroke-width="0.06">Abemaciclib</text>
<text x="463.85" y="160.20" font-size="4.0" fill="#333" text-anchor="middle" textLength="13.50" lengthAdjust="spacingAndGlyphs"  stroke="#333" stroke-width="0.06">50 mg/kg</text>
<text x="463.85" y="165.00" font-size="4.0" fill="#333" text-anchor="middle" textLength="21.00" lengthAdjust="spacingAndGlyphs"  stroke="#333" stroke-width="0.06">Abemaciclib</text>
<text x="494.85" y="160.20" font-size="4.0" fill="#333" text-anchor="middle" textLength="13.50" lengthAdjust="spacingAndGlyphs"  stroke="#333" stroke-width="0.06">75 mg/kg</text>
<text x="494.85" y="165.00" font-size="4.0" fill="#333" text-anchor="middle" textLength="21.00" lengthAdjust="spacingAndGlyphs"  stroke="#333" stroke-width="0.06">Abemaciclib</text>
<line x1="325.00" y1="166.30" x2="511.00" y2="166.30" stroke="#444" stroke-width="0.6"/>
</svg>
</body></html>
